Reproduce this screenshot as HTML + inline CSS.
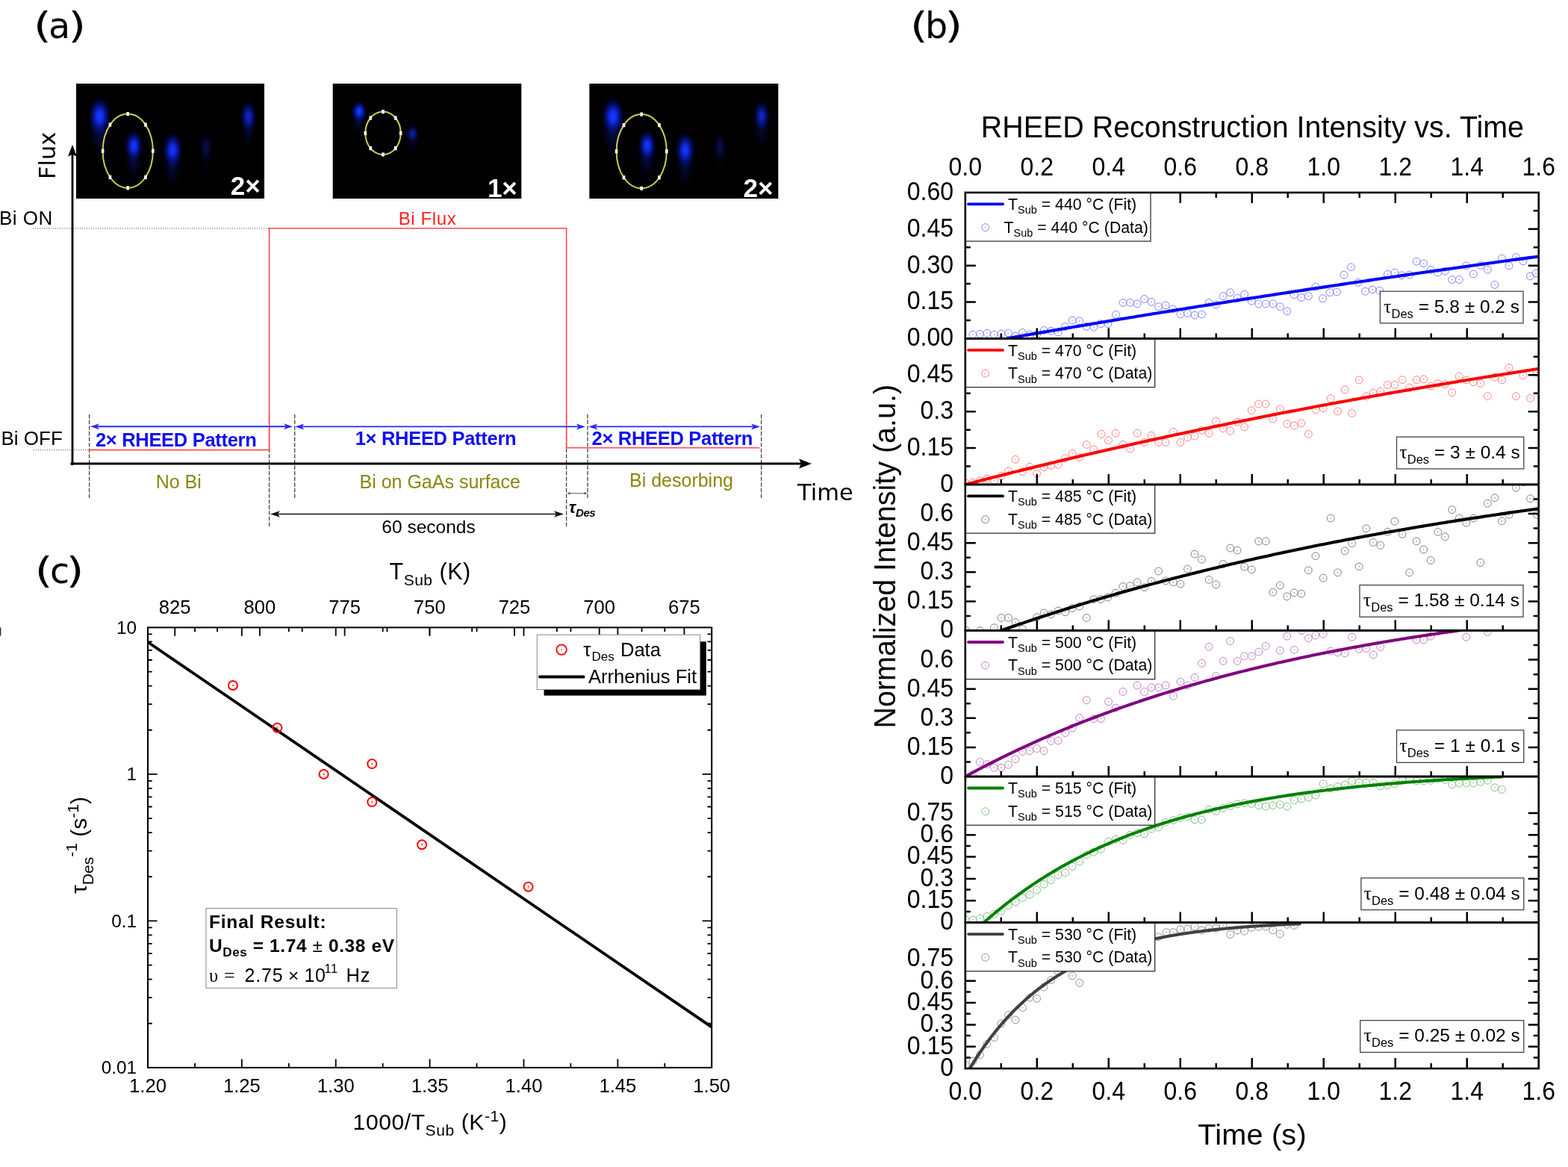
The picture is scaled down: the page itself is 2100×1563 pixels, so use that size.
<!DOCTYPE html>
<html><head><meta charset="utf-8"><title>RHEED desorption figure</title>
<style>html,body{margin:0;padding:0;background:#fff;}svg{display:block;}</style></head>
<body><svg width="2100" height="1563" viewBox="0 0 2100 1563">
<rect width="2100" height="1563" fill="#fff"/>
<g font-family="DejaVu Sans, sans-serif" font-size="47.5" fill="#000"><text transform="translate(44.7,51) scale(1.3,1)">(</text><text x="65.0" y="51">a</text><text transform="translate(91.2,51) scale(1.3,1)">)</text></g>
<g font-family="DejaVu Sans, sans-serif" font-size="47.5" fill="#000"><text transform="translate(1218.7,51) scale(1.3,1)">(</text><text x="1239" y="51">b</text><text transform="translate(1265.2,51) scale(1.3,1)">)</text></g>
<g font-family="DejaVu Sans, sans-serif" font-size="47.5" fill="#000"><text transform="translate(46.5,781.2) scale(1.3,1)">(</text><text x="67.0" y="781.2">c</text><text transform="translate(88.5,781.2) scale(1.3,1)">)</text></g>
<defs><radialGradient id="blob"><stop offset="0" stop-color="#1838ff"/><stop offset="0.25" stop-color="#1030f0"/><stop offset="0.55" stop-color="#0818a8" stop-opacity="0.75"/><stop offset="1" stop-color="#000050" stop-opacity="0"/></radialGradient><clipPath id="clip0"><rect x="102" y="112" width="252" height="154"/></clipPath><clipPath id="clip1"><rect x="445.7" y="112" width="252.6" height="154"/></clipPath><clipPath id="clip2"><rect x="789.3" y="112" width="253" height="154"/></clipPath></defs>
<rect x="102" y="112" width="252" height="154" fill="#000"/>
<g clip-path="url(#clip0)">
<ellipse cx="133.4" cy="174.7" rx="16" ry="40.5" fill="url(#blob)" opacity="0.22"/>
<ellipse cx="133.4" cy="155.8" rx="16" ry="27" fill="url(#blob)" opacity="1.0"/>
<ellipse cx="179.2" cy="210.8" rx="13" ry="33" fill="url(#blob)" opacity="0.21"/>
<ellipse cx="179.2" cy="195.4" rx="13" ry="22" fill="url(#blob)" opacity="0.95"/>
<ellipse cx="231.2" cy="218.5" rx="14" ry="37.5" fill="url(#blob)" opacity="0.21"/>
<ellipse cx="231.2" cy="201" rx="14" ry="25" fill="url(#blob)" opacity="0.95"/>
<ellipse cx="275.7" cy="210.6" rx="10" ry="30" fill="url(#blob)" opacity="0.06"/>
<ellipse cx="275.7" cy="196.6" rx="10" ry="20" fill="url(#blob)" opacity="0.25"/>
<ellipse cx="332.7" cy="171.2" rx="12" ry="33" fill="url(#blob)" opacity="0.15"/>
<ellipse cx="332.7" cy="155.8" rx="12" ry="22" fill="url(#blob)" opacity="0.7"/>
<ellipse cx="171.2" cy="202.2" rx="33.6" ry="49.6" fill="none" stroke="#cdcd4e" stroke-width="2"/>
<rect x="203" y="199.6" width="3.6" height="5.2" fill="#fff"/>
<rect x="193.16" y="234.67" width="3.6" height="5.2" fill="#fff"/>
<rect x="169.4" y="249.2" width="3.6" height="5.2" fill="#fff"/>
<rect x="145.64" y="234.67" width="3.6" height="5.2" fill="#fff"/>
<rect x="135.8" y="199.6" width="3.6" height="5.2" fill="#fff"/>
<rect x="145.64" y="164.53" width="3.6" height="5.2" fill="#fff"/>
<rect x="169.4" y="150" width="3.6" height="5.2" fill="#fff"/>
<rect x="193.16" y="164.53" width="3.6" height="5.2" fill="#fff"/>
</g>
<text x="348.6" y="260.5" font-family="Liberation Sans, Arial, sans-serif" font-weight="bold" font-size="35" fill="#fff" text-anchor="end">2×</text>
<rect x="445.7" y="112" width="252.6" height="154" fill="#000"/>
<g clip-path="url(#clip1)">
<ellipse cx="481" cy="159.8" rx="11" ry="22.5" fill="url(#blob)" opacity="0.22"/>
<ellipse cx="481" cy="149.3" rx="11" ry="15" fill="url(#blob)" opacity="1.0"/>
<ellipse cx="552.3" cy="188.1" rx="10" ry="19.5" fill="url(#blob)" opacity="0.12"/>
<ellipse cx="552.3" cy="179" rx="10" ry="13" fill="url(#blob)" opacity="0.55"/>
<ellipse cx="513" cy="178.3" rx="23.7" ry="28.7" fill="none" stroke="#cdcd4e" stroke-width="2"/>
<rect x="534.9" y="175.7" width="3.6" height="5.2" fill="#fff"/>
<rect x="527.96" y="195.99" width="3.6" height="5.2" fill="#fff"/>
<rect x="511.2" y="204.4" width="3.6" height="5.2" fill="#fff"/>
<rect x="494.44" y="195.99" width="3.6" height="5.2" fill="#fff"/>
<rect x="487.5" y="175.7" width="3.6" height="5.2" fill="#fff"/>
<rect x="494.44" y="155.41" width="3.6" height="5.2" fill="#fff"/>
<rect x="511.2" y="147" width="3.6" height="5.2" fill="#fff"/>
<rect x="527.96" y="155.41" width="3.6" height="5.2" fill="#fff"/>
</g>
<text x="692.8" y="263.5" font-family="Liberation Sans, Arial, sans-serif" font-weight="bold" font-size="35" fill="#fff" text-anchor="end">1×</text>
<rect x="789.3" y="112" width="253" height="154" fill="#000"/>
<g clip-path="url(#clip2)">
<ellipse cx="821" cy="174.9" rx="16" ry="40.5" fill="url(#blob)" opacity="0.22"/>
<ellipse cx="821" cy="156" rx="16" ry="27" fill="url(#blob)" opacity="1.0"/>
<ellipse cx="866.7" cy="210.4" rx="13" ry="33" fill="url(#blob)" opacity="0.21"/>
<ellipse cx="866.7" cy="195" rx="13" ry="22" fill="url(#blob)" opacity="0.95"/>
<ellipse cx="917.7" cy="218.5" rx="14" ry="37.5" fill="url(#blob)" opacity="0.21"/>
<ellipse cx="917.7" cy="201" rx="14" ry="25" fill="url(#blob)" opacity="0.95"/>
<ellipse cx="964" cy="210" rx="10" ry="30" fill="url(#blob)" opacity="0.06"/>
<ellipse cx="964" cy="196" rx="10" ry="20" fill="url(#blob)" opacity="0.25"/>
<ellipse cx="1020" cy="170.9" rx="12" ry="33" fill="url(#blob)" opacity="0.15"/>
<ellipse cx="1020" cy="155.5" rx="12" ry="22" fill="url(#blob)" opacity="0.7"/>
<ellipse cx="859.2" cy="202.7" rx="33.6" ry="49.6" fill="none" stroke="#cdcd4e" stroke-width="2"/>
<rect x="891" y="200.1" width="3.6" height="5.2" fill="#fff"/>
<rect x="881.16" y="235.17" width="3.6" height="5.2" fill="#fff"/>
<rect x="857.4" y="249.7" width="3.6" height="5.2" fill="#fff"/>
<rect x="833.64" y="235.17" width="3.6" height="5.2" fill="#fff"/>
<rect x="823.8" y="200.1" width="3.6" height="5.2" fill="#fff"/>
<rect x="833.64" y="165.03" width="3.6" height="5.2" fill="#fff"/>
<rect x="857.4" y="150.5" width="3.6" height="5.2" fill="#fff"/>
<rect x="881.16" y="165.03" width="3.6" height="5.2" fill="#fff"/>
</g>
<text x="1035.5" y="263.5" font-family="Liberation Sans, Arial, sans-serif" font-weight="bold" font-size="35" fill="#fff" text-anchor="end">2×</text>
<line x1="44" y1="305.8" x2="360" y2="305.8" stroke="#777" stroke-width="1.2" stroke-dasharray="1.2,1.8"/>
<line x1="45" y1="602.6" x2="119" y2="602.6" stroke="#777" stroke-width="1.2" stroke-dasharray="1.2,1.8"/>
<line x1="119.6" y1="555" x2="119.6" y2="668.6" stroke="#444" stroke-width="1.3" stroke-dasharray="5.6,2"/>
<line x1="360.6" y1="555" x2="360.6" y2="705.4" stroke="#444" stroke-width="1.3" stroke-dasharray="5.6,2"/>
<line x1="394.7" y1="555" x2="394.7" y2="668.6" stroke="#444" stroke-width="1.3" stroke-dasharray="5.6,2"/>
<line x1="758.6" y1="555" x2="758.6" y2="705.6" stroke="#444" stroke-width="1.3" stroke-dasharray="5.6,2"/>
<line x1="787" y1="555" x2="787" y2="668" stroke="#444" stroke-width="1.3" stroke-dasharray="5.6,2"/>
<line x1="1019.6" y1="555" x2="1019.6" y2="668" stroke="#444" stroke-width="1.3" stroke-dasharray="5.6,2"/>
<polyline points="119.6,602.6 360.6,602.6 360.6,305.8 758.6,305.8 758.6,599.8 1017,599.8" fill="none" stroke="#ff4a4a" stroke-width="1.6"/>
<line x1="97" y1="622" x2="97" y2="205" stroke="#000" stroke-width="2.8"/>
<polygon points="97,193.8 103,209.8 97,206.8 91,209.8" fill="#000"/>
<line x1="95.6" y1="621" x2="1075" y2="621" stroke="#000" stroke-width="2.8"/>
<polygon points="1087,621 1070,627.5 1073,621 1070,614.5" fill="#000"/>
<circle cx="96.6" cy="621" r="2.2" fill="#000"/>
<line x1="130" y1="571.2" x2="383.1" y2="571.2" stroke="#2828ff" stroke-width="1.9"/>
<polygon points="121,571.2 133,567.2 130,571.2 133,575.2" fill="#2828ff"/>
<polygon points="392.1,571.2 380.1,575.2 383.1,571.2 380.1,567.2" fill="#2828ff"/>
<line x1="404.3" y1="571.4" x2="774.9" y2="571.4" stroke="#2828ff" stroke-width="1.9"/>
<polygon points="395.3,571.4 407.3,567.4 404.3,571.4 407.3,575.4" fill="#2828ff"/>
<polygon points="783.9,571.4 771.9,575.4 774.9,571.4 771.9,567.4" fill="#2828ff"/>
<line x1="797.2" y1="571.4" x2="1009" y2="571.4" stroke="#2828ff" stroke-width="1.9"/>
<polygon points="788.2,571.4 800.2,567.4 797.2,571.4 800.2,575.4" fill="#2828ff"/>
<polygon points="1018,571.4 1006,575.4 1009,571.4 1006,567.4" fill="#2828ff"/>
<line x1="372" y1="688.5" x2="745" y2="688.5" stroke="#111" stroke-width="1.6"/>
<polygon points="362,688.5 375,684.3 372,688.5 375,692.7" fill="#111"/>
<polygon points="755,688.5 742,692.7 745,688.5 742,684.3" fill="#111"/>
<line x1="763" y1="660.8" x2="783" y2="660.8" stroke="#555" stroke-width="1.0"/>
<polygon points="759.5,660.8 763.5,658.8 763,660.8 763.5,662.8" fill="#555"/>
<polygon points="786.5,660.8 782.5,662.8 783,660.8 782.5,658.8" fill="#555"/>
<text x="-1" y="301.4" font-family="Liberation Sans, Arial, sans-serif" font-size="26" letter-spacing="0.5" fill="#000">Bi ON</text>
<text x="1.5" y="596" font-family="Liberation Sans, Arial, sans-serif" font-size="26" fill="#000">Bi OFF</text>
<text x="572.5" y="300.7" font-family="Liberation Sans, Arial, sans-serif" font-size="24" letter-spacing="0.6" fill="#ff2020" text-anchor="middle">Bi Flux</text>
<text x="235.7" y="598.3" font-family="Liberation Sans, Arial, sans-serif" font-size="25.5" letter-spacing="-0.3" font-weight="bold" fill="#1010ee" text-anchor="middle">2× RHEED Pattern</text>
<text x="583.5" y="596" font-family="Liberation Sans, Arial, sans-serif" font-size="25.5" letter-spacing="-0.3" font-weight="bold" fill="#1010ee" text-anchor="middle">1× RHEED Pattern</text>
<text x="900.3" y="595.6" font-family="Liberation Sans, Arial, sans-serif" font-size="25.5" letter-spacing="-0.3" font-weight="bold" fill="#1010ee" text-anchor="middle">2× RHEED Pattern</text>
<text x="239.3" y="653.6" font-family="Liberation Sans, Arial, sans-serif" font-size="25" fill="#888810" text-anchor="middle">No Bi</text>
<text x="589.2" y="653.6" font-family="Liberation Sans, Arial, sans-serif" font-size="25" fill="#888810" text-anchor="middle">Bi on GaAs surface</text>
<text x="912.5" y="652" font-family="Liberation Sans, Arial, sans-serif" font-size="25" fill="#888810" text-anchor="middle">Bi desorbing</text>
<text x="574" y="714" font-family="Liberation Sans, Arial, sans-serif" font-size="24.5" fill="#000" text-anchor="middle">60 seconds</text>
<text x="762" y="687" font-family="Liberation Sans, Arial, sans-serif" font-size="22" font-weight="bold" font-style="italic" fill="#000">τ<tspan font-size="15" dy="5" letter-spacing="-0.4">Des</tspan></text>
<text x="1068" y="670.4" font-family="DejaVu Sans, sans-serif" font-size="30.5" fill="#000">Time</text>
<text transform="translate(74,240) rotate(-90)" font-family="DejaVu Sans, sans-serif" font-size="30.5" fill="#000">Flux</text>
<defs><clipPath id="bclip"><rect x="1292.8" y="257.9" width="767.9039999999998" height="1173.1799999999998"/></clipPath>
<clipPath id="bc0"><rect x="1292.8" y="257.9" width="767.9039999999998" height="195.52999999999997"/></clipPath>
<clipPath id="bc1"><rect x="1292.8" y="453.42999999999995" width="767.9039999999998" height="195.5300000000001"/></clipPath>
<clipPath id="bc2"><rect x="1292.8" y="648.96" width="767.9039999999998" height="195.52999999999997"/></clipPath>
<clipPath id="bc3"><rect x="1292.8" y="844.49" width="767.9039999999998" height="195.52999999999997"/></clipPath>
<clipPath id="bc4"><rect x="1292.8" y="1040.02" width="767.9039999999998" height="195.52999999999997"/></clipPath>
<clipPath id="bc5"><rect x="1292.8" y="1235.55" width="767.9039999999998" height="195.52999999999997"/></clipPath>
</defs>
<g clip-path="url(#bc0)">
<circle cx="1302.86" cy="448.1" r="4.9" fill="none" stroke="#8080ff" stroke-width="1"/><circle cx="1302.86" cy="448.1" r="0.8" fill="#8080ff"/>
<circle cx="1312.38" cy="447.33" r="4.9" fill="none" stroke="#8080ff" stroke-width="1"/><circle cx="1312.38" cy="447.33" r="0.8" fill="#8080ff"/>
<circle cx="1321.9" cy="446.19" r="4.9" fill="none" stroke="#8080ff" stroke-width="1"/><circle cx="1321.9" cy="446.19" r="0.8" fill="#8080ff"/>
<circle cx="1331.43" cy="448.1" r="4.9" fill="none" stroke="#8080ff" stroke-width="1"/><circle cx="1331.43" cy="448.1" r="0.8" fill="#8080ff"/>
<circle cx="1340.95" cy="446.95" r="4.9" fill="none" stroke="#8080ff" stroke-width="1"/><circle cx="1340.95" cy="446.95" r="0.8" fill="#8080ff"/>
<circle cx="1350.48" cy="446.19" r="4.9" fill="none" stroke="#8080ff" stroke-width="1"/><circle cx="1350.48" cy="446.19" r="0.8" fill="#8080ff"/>
<circle cx="1360" cy="450" r="4.9" fill="none" stroke="#8080ff" stroke-width="1"/><circle cx="1360" cy="450" r="0.8" fill="#8080ff"/>
<circle cx="1369.52" cy="445.43" r="4.9" fill="none" stroke="#8080ff" stroke-width="1"/><circle cx="1369.52" cy="445.43" r="0.8" fill="#8080ff"/>
<circle cx="1379.05" cy="448.1" r="4.9" fill="none" stroke="#8080ff" stroke-width="1"/><circle cx="1379.05" cy="448.1" r="0.8" fill="#8080ff"/>
<circle cx="1388.57" cy="448.1" r="4.9" fill="none" stroke="#8080ff" stroke-width="1"/><circle cx="1388.57" cy="448.1" r="0.8" fill="#8080ff"/>
<circle cx="1398.1" cy="442.38" r="4.9" fill="none" stroke="#8080ff" stroke-width="1"/><circle cx="1398.1" cy="442.38" r="0.8" fill="#8080ff"/>
<circle cx="1407.62" cy="443.14" r="4.9" fill="none" stroke="#8080ff" stroke-width="1"/><circle cx="1407.62" cy="443.14" r="0.8" fill="#8080ff"/>
<circle cx="1417.14" cy="445.05" r="4.9" fill="none" stroke="#8080ff" stroke-width="1"/><circle cx="1417.14" cy="445.05" r="0.8" fill="#8080ff"/>
<circle cx="1426.67" cy="437.43" r="4.9" fill="none" stroke="#8080ff" stroke-width="1"/><circle cx="1426.67" cy="437.43" r="0.8" fill="#8080ff"/>
<circle cx="1436.19" cy="429.05" r="4.9" fill="none" stroke="#8080ff" stroke-width="1"/><circle cx="1436.19" cy="429.05" r="0.8" fill="#8080ff"/>
<circle cx="1445.71" cy="429.81" r="4.9" fill="none" stroke="#8080ff" stroke-width="1"/><circle cx="1445.71" cy="429.81" r="0.8" fill="#8080ff"/>
<circle cx="1455.24" cy="437.43" r="4.9" fill="none" stroke="#8080ff" stroke-width="1"/><circle cx="1455.24" cy="437.43" r="0.8" fill="#8080ff"/>
<circle cx="1464.76" cy="438.19" r="4.9" fill="none" stroke="#8080ff" stroke-width="1"/><circle cx="1464.76" cy="438.19" r="0.8" fill="#8080ff"/>
<circle cx="1474.29" cy="433.62" r="4.9" fill="none" stroke="#8080ff" stroke-width="1"/><circle cx="1474.29" cy="433.62" r="0.8" fill="#8080ff"/>
<circle cx="1483.81" cy="433.62" r="4.9" fill="none" stroke="#8080ff" stroke-width="1"/><circle cx="1483.81" cy="433.62" r="0.8" fill="#8080ff"/>
<circle cx="1494.48" cy="421.43" r="4.9" fill="none" stroke="#8080ff" stroke-width="1"/><circle cx="1494.48" cy="421.43" r="0.8" fill="#8080ff"/>
<circle cx="1504" cy="405.43" r="4.9" fill="none" stroke="#8080ff" stroke-width="1"/><circle cx="1504" cy="405.43" r="0.8" fill="#8080ff"/>
<circle cx="1513.52" cy="405.43" r="4.9" fill="none" stroke="#8080ff" stroke-width="1"/><circle cx="1513.52" cy="405.43" r="0.8" fill="#8080ff"/>
<circle cx="1523.05" cy="406.95" r="4.9" fill="none" stroke="#8080ff" stroke-width="1"/><circle cx="1523.05" cy="406.95" r="0.8" fill="#8080ff"/>
<circle cx="1532.57" cy="400.48" r="4.9" fill="none" stroke="#8080ff" stroke-width="1"/><circle cx="1532.57" cy="400.48" r="0.8" fill="#8080ff"/>
<circle cx="1542.1" cy="404.29" r="4.9" fill="none" stroke="#8080ff" stroke-width="1"/><circle cx="1542.1" cy="404.29" r="0.8" fill="#8080ff"/>
<circle cx="1551.62" cy="410.76" r="4.9" fill="none" stroke="#8080ff" stroke-width="1"/><circle cx="1551.62" cy="410.76" r="0.8" fill="#8080ff"/>
<circle cx="1561.14" cy="408.86" r="4.9" fill="none" stroke="#8080ff" stroke-width="1"/><circle cx="1561.14" cy="408.86" r="0.8" fill="#8080ff"/>
<circle cx="1570.67" cy="413.81" r="4.9" fill="none" stroke="#8080ff" stroke-width="1"/><circle cx="1570.67" cy="413.81" r="0.8" fill="#8080ff"/>
<circle cx="1580.95" cy="420.67" r="4.9" fill="none" stroke="#8080ff" stroke-width="1"/><circle cx="1580.95" cy="420.67" r="0.8" fill="#8080ff"/>
<circle cx="1590.48" cy="419.52" r="4.9" fill="none" stroke="#8080ff" stroke-width="1"/><circle cx="1590.48" cy="419.52" r="0.8" fill="#8080ff"/>
<circle cx="1600" cy="422.19" r="4.9" fill="none" stroke="#8080ff" stroke-width="1"/><circle cx="1600" cy="422.19" r="0.8" fill="#8080ff"/>
<circle cx="1609.52" cy="421.05" r="4.9" fill="none" stroke="#8080ff" stroke-width="1"/><circle cx="1609.52" cy="421.05" r="0.8" fill="#8080ff"/>
<circle cx="1619.05" cy="405.43" r="4.9" fill="none" stroke="#8080ff" stroke-width="1"/><circle cx="1619.05" cy="405.43" r="0.8" fill="#8080ff"/>
<circle cx="1628.57" cy="408.1" r="4.9" fill="none" stroke="#8080ff" stroke-width="1"/><circle cx="1628.57" cy="408.1" r="0.8" fill="#8080ff"/>
<circle cx="1638.1" cy="396.67" r="4.9" fill="none" stroke="#8080ff" stroke-width="1"/><circle cx="1638.1" cy="396.67" r="0.8" fill="#8080ff"/>
<circle cx="1647.62" cy="391.71" r="4.9" fill="none" stroke="#8080ff" stroke-width="1"/><circle cx="1647.62" cy="391.71" r="0.8" fill="#8080ff"/>
<circle cx="1657.14" cy="399.33" r="4.9" fill="none" stroke="#8080ff" stroke-width="1"/><circle cx="1657.14" cy="399.33" r="0.8" fill="#8080ff"/>
<circle cx="1666.67" cy="394" r="4.9" fill="none" stroke="#8080ff" stroke-width="1"/><circle cx="1666.67" cy="394" r="0.8" fill="#8080ff"/>
<circle cx="1676.19" cy="403.14" r="4.9" fill="none" stroke="#8080ff" stroke-width="1"/><circle cx="1676.19" cy="403.14" r="0.8" fill="#8080ff"/>
<circle cx="1685.71" cy="406.95" r="4.9" fill="none" stroke="#8080ff" stroke-width="1"/><circle cx="1685.71" cy="406.95" r="0.8" fill="#8080ff"/>
<circle cx="1695.24" cy="406.95" r="4.9" fill="none" stroke="#8080ff" stroke-width="1"/><circle cx="1695.24" cy="406.95" r="0.8" fill="#8080ff"/>
<circle cx="1704.76" cy="406.95" r="4.9" fill="none" stroke="#8080ff" stroke-width="1"/><circle cx="1704.76" cy="406.95" r="0.8" fill="#8080ff"/>
<circle cx="1714.29" cy="410.76" r="4.9" fill="none" stroke="#8080ff" stroke-width="1"/><circle cx="1714.29" cy="410.76" r="0.8" fill="#8080ff"/>
<circle cx="1723.81" cy="416.86" r="4.9" fill="none" stroke="#8080ff" stroke-width="1"/><circle cx="1723.81" cy="416.86" r="0.8" fill="#8080ff"/>
<circle cx="1733.33" cy="394.76" r="4.9" fill="none" stroke="#8080ff" stroke-width="1"/><circle cx="1733.33" cy="394.76" r="0.8" fill="#8080ff"/>
<circle cx="1742.86" cy="398.57" r="4.9" fill="none" stroke="#8080ff" stroke-width="1"/><circle cx="1742.86" cy="398.57" r="0.8" fill="#8080ff"/>
<circle cx="1752.38" cy="396.67" r="4.9" fill="none" stroke="#8080ff" stroke-width="1"/><circle cx="1752.38" cy="396.67" r="0.8" fill="#8080ff"/>
<circle cx="1761.9" cy="384.1" r="4.9" fill="none" stroke="#8080ff" stroke-width="1"/><circle cx="1761.9" cy="384.1" r="0.8" fill="#8080ff"/>
<circle cx="1771.43" cy="399.71" r="4.9" fill="none" stroke="#8080ff" stroke-width="1"/><circle cx="1771.43" cy="399.71" r="0.8" fill="#8080ff"/>
<circle cx="1780.95" cy="391.71" r="4.9" fill="none" stroke="#8080ff" stroke-width="1"/><circle cx="1780.95" cy="391.71" r="0.8" fill="#8080ff"/>
<circle cx="1790.48" cy="390.95" r="4.9" fill="none" stroke="#8080ff" stroke-width="1"/><circle cx="1790.48" cy="390.95" r="0.8" fill="#8080ff"/>
<circle cx="1800" cy="368.1" r="4.9" fill="none" stroke="#8080ff" stroke-width="1"/><circle cx="1800" cy="368.1" r="0.8" fill="#8080ff"/>
<circle cx="1809.52" cy="357.81" r="4.9" fill="none" stroke="#8080ff" stroke-width="1"/><circle cx="1809.52" cy="357.81" r="0.8" fill="#8080ff"/>
<circle cx="1819.05" cy="378.38" r="4.9" fill="none" stroke="#8080ff" stroke-width="1"/><circle cx="1819.05" cy="378.38" r="0.8" fill="#8080ff"/>
<circle cx="1828.57" cy="390.19" r="4.9" fill="none" stroke="#8080ff" stroke-width="1"/><circle cx="1828.57" cy="390.19" r="0.8" fill="#8080ff"/>
<circle cx="1838.1" cy="387.9" r="4.9" fill="none" stroke="#8080ff" stroke-width="1"/><circle cx="1838.1" cy="387.9" r="0.8" fill="#8080ff"/>
<circle cx="1847.62" cy="389.05" r="4.9" fill="none" stroke="#8080ff" stroke-width="1"/><circle cx="1847.62" cy="389.05" r="0.8" fill="#8080ff"/>
<circle cx="1858.29" cy="367.33" r="4.9" fill="none" stroke="#8080ff" stroke-width="1"/><circle cx="1858.29" cy="367.33" r="0.8" fill="#8080ff"/>
<circle cx="1867.81" cy="365.05" r="4.9" fill="none" stroke="#8080ff" stroke-width="1"/><circle cx="1867.81" cy="365.05" r="0.8" fill="#8080ff"/>
<circle cx="1877.33" cy="368.86" r="4.9" fill="none" stroke="#8080ff" stroke-width="1"/><circle cx="1877.33" cy="368.86" r="0.8" fill="#8080ff"/>
<circle cx="1887.62" cy="368.1" r="4.9" fill="none" stroke="#8080ff" stroke-width="1"/><circle cx="1887.62" cy="368.1" r="0.8" fill="#8080ff"/>
<circle cx="1897.14" cy="350.19" r="4.9" fill="none" stroke="#8080ff" stroke-width="1"/><circle cx="1897.14" cy="350.19" r="0.8" fill="#8080ff"/>
<circle cx="1906.67" cy="352.86" r="4.9" fill="none" stroke="#8080ff" stroke-width="1"/><circle cx="1906.67" cy="352.86" r="0.8" fill="#8080ff"/>
<circle cx="1916.19" cy="361.24" r="4.9" fill="none" stroke="#8080ff" stroke-width="1"/><circle cx="1916.19" cy="361.24" r="0.8" fill="#8080ff"/>
<circle cx="1925.71" cy="365.05" r="4.9" fill="none" stroke="#8080ff" stroke-width="1"/><circle cx="1925.71" cy="365.05" r="0.8" fill="#8080ff"/>
<circle cx="1935.24" cy="363.14" r="4.9" fill="none" stroke="#8080ff" stroke-width="1"/><circle cx="1935.24" cy="363.14" r="0.8" fill="#8080ff"/>
<circle cx="1944.76" cy="374.57" r="4.9" fill="none" stroke="#8080ff" stroke-width="1"/><circle cx="1944.76" cy="374.57" r="0.8" fill="#8080ff"/>
<circle cx="1954.29" cy="374.57" r="4.9" fill="none" stroke="#8080ff" stroke-width="1"/><circle cx="1954.29" cy="374.57" r="0.8" fill="#8080ff"/>
<circle cx="1963.81" cy="355.9" r="4.9" fill="none" stroke="#8080ff" stroke-width="1"/><circle cx="1963.81" cy="355.9" r="0.8" fill="#8080ff"/>
<circle cx="1973.33" cy="366.95" r="4.9" fill="none" stroke="#8080ff" stroke-width="1"/><circle cx="1973.33" cy="366.95" r="0.8" fill="#8080ff"/>
<circle cx="1982.86" cy="355.52" r="4.9" fill="none" stroke="#8080ff" stroke-width="1"/><circle cx="1982.86" cy="355.52" r="0.8" fill="#8080ff"/>
<circle cx="1992.38" cy="361.24" r="4.9" fill="none" stroke="#8080ff" stroke-width="1"/><circle cx="1992.38" cy="361.24" r="0.8" fill="#8080ff"/>
<circle cx="2001.9" cy="381.43" r="4.9" fill="none" stroke="#8080ff" stroke-width="1"/><circle cx="2001.9" cy="381.43" r="0.8" fill="#8080ff"/>
<circle cx="2011.43" cy="346" r="4.9" fill="none" stroke="#8080ff" stroke-width="1"/><circle cx="2011.43" cy="346" r="0.8" fill="#8080ff"/>
<circle cx="2020.95" cy="355.9" r="4.9" fill="none" stroke="#8080ff" stroke-width="1"/><circle cx="2020.95" cy="355.9" r="0.8" fill="#8080ff"/>
<circle cx="2030.48" cy="344.48" r="4.9" fill="none" stroke="#8080ff" stroke-width="1"/><circle cx="2030.48" cy="344.48" r="0.8" fill="#8080ff"/>
<circle cx="2040" cy="349.81" r="4.9" fill="none" stroke="#8080ff" stroke-width="1"/><circle cx="2040" cy="349.81" r="0.8" fill="#8080ff"/>
<circle cx="2049.52" cy="370" r="4.9" fill="none" stroke="#8080ff" stroke-width="1"/><circle cx="2049.52" cy="370" r="0.8" fill="#8080ff"/>
<circle cx="2057.14" cy="366.19" r="4.9" fill="none" stroke="#8080ff" stroke-width="1"/><circle cx="2057.14" cy="366.19" r="0.8" fill="#8080ff"/>
<polyline points="1347.99,453.43 1351.56,452.81 1355.12,452.19 1358.68,451.56 1362.25,450.94 1365.81,450.32 1369.37,449.7 1372.94,449.09 1376.5,448.47 1380.07,447.85 1383.63,447.24 1387.19,446.62 1390.76,446.01 1394.32,445.39 1397.88,444.78 1401.45,444.17 1405.01,443.56 1408.57,442.95 1412.14,442.34 1415.7,441.73 1419.26,441.12 1422.83,440.52 1426.39,439.91 1429.95,439.3 1433.52,438.7 1437.08,438.09 1440.65,437.49 1444.21,436.89 1447.77,436.29 1451.34,435.69 1454.9,435.09 1458.46,434.49 1462.03,433.89 1465.59,433.29 1469.15,432.69 1472.72,432.1 1476.28,431.5 1479.84,430.91 1483.41,430.31 1486.97,429.72 1490.54,429.13 1494.1,428.53 1497.66,427.94 1501.23,427.35 1504.79,426.76 1508.35,426.18 1511.92,425.59 1515.48,425 1519.04,424.41 1522.61,423.83 1526.17,423.24 1529.73,422.66 1533.3,422.07 1536.86,421.49 1540.43,420.91 1543.99,420.33 1547.55,419.75 1551.12,419.17 1554.68,418.59 1558.24,418.01 1561.81,417.43 1565.37,416.86 1568.93,416.28 1572.5,415.71 1576.06,415.13 1579.62,414.56 1583.19,413.98 1586.75,413.41 1590.31,412.84 1593.88,412.27 1597.44,411.7 1601.01,411.13 1604.57,410.56 1608.13,409.99 1611.7,409.42 1615.26,408.86 1618.82,408.29 1622.39,407.73 1625.95,407.16 1629.51,406.6 1633.08,406.04 1636.64,405.47 1640.2,404.91 1643.77,404.35 1647.33,403.79 1650.9,403.23 1654.46,402.67 1658.02,402.12 1661.59,401.56 1665.15,401 1668.71,400.45 1672.28,399.89 1675.84,399.34 1679.4,398.78 1682.97,398.23 1686.53,397.68 1690.09,397.13 1693.66,396.58 1697.22,396.03 1700.78,395.48 1704.35,394.93 1707.91,394.38 1711.48,393.83 1715.04,393.28 1718.6,392.74 1722.17,392.19 1725.73,391.65 1729.29,391.11 1732.86,390.56 1736.42,390.02 1739.98,389.48 1743.55,388.94 1747.11,388.4 1750.67,387.86 1754.24,387.32 1757.8,386.78 1761.37,386.24 1764.93,385.71 1768.49,385.17 1772.06,384.63 1775.62,384.1 1779.18,383.56 1782.75,383.03 1786.31,382.5 1789.87,381.97 1793.44,381.43 1797,380.9 1800.56,380.37 1804.13,379.84 1807.69,379.32 1811.26,378.79 1814.82,378.26 1818.38,377.73 1821.95,377.21 1825.51,376.68 1829.07,376.16 1832.64,375.63 1836.2,375.11 1839.76,374.59 1843.33,374.07 1846.89,373.54 1850.45,373.02 1854.02,372.5 1857.58,371.98 1861.14,371.46 1864.71,370.95 1868.27,370.43 1871.84,369.91 1875.4,369.4 1878.96,368.88 1882.53,368.37 1886.09,367.85 1889.65,367.34 1893.22,366.83 1896.78,366.31 1900.34,365.8 1903.91,365.29 1907.47,364.78 1911.03,364.27 1914.6,363.76 1918.16,363.26 1921.73,362.75 1925.29,362.24 1928.85,361.74 1932.42,361.23 1935.98,360.72 1939.54,360.22 1943.11,359.72 1946.67,359.21 1950.23,358.71 1953.8,358.21 1957.36,357.71 1960.92,357.21 1964.49,356.71 1968.05,356.21 1971.62,355.71 1975.18,355.21 1978.74,354.72 1982.31,354.22 1985.87,353.72 1989.43,353.23 1993,352.73 1996.56,352.24 2000.12,351.75 2003.69,351.25 2007.25,350.76 2010.81,350.27 2014.38,349.78 2017.94,349.29 2021.5,348.8 2025.07,348.31 2028.63,347.82 2032.2,347.33 2035.76,346.85 2039.32,346.36 2042.89,345.87 2046.45,345.39 2050.01,344.9 2053.58,344.42 2057.14,343.94 2060.7,343.45" fill="none" stroke="#0000ff" stroke-width="4.1"/>
</g>
<g clip-path="url(#bc1)">
<circle cx="1293.33" cy="646.9" r="4.9" fill="none" stroke="#ff8080" stroke-width="1"/><circle cx="1293.33" cy="646.9" r="0.8" fill="#ff8080"/>
<circle cx="1302.86" cy="646.14" r="4.9" fill="none" stroke="#ff8080" stroke-width="1"/><circle cx="1302.86" cy="646.14" r="0.8" fill="#ff8080"/>
<circle cx="1312.38" cy="643.86" r="4.9" fill="none" stroke="#ff8080" stroke-width="1"/><circle cx="1312.38" cy="643.86" r="0.8" fill="#ff8080"/>
<circle cx="1321.9" cy="641.19" r="4.9" fill="none" stroke="#ff8080" stroke-width="1"/><circle cx="1321.9" cy="641.19" r="0.8" fill="#ff8080"/>
<circle cx="1331.43" cy="643.86" r="4.9" fill="none" stroke="#ff8080" stroke-width="1"/><circle cx="1331.43" cy="643.86" r="0.8" fill="#ff8080"/>
<circle cx="1340.95" cy="637.38" r="4.9" fill="none" stroke="#ff8080" stroke-width="1"/><circle cx="1340.95" cy="637.38" r="0.8" fill="#ff8080"/>
<circle cx="1350.48" cy="630.9" r="4.9" fill="none" stroke="#ff8080" stroke-width="1"/><circle cx="1350.48" cy="630.9" r="0.8" fill="#ff8080"/>
<circle cx="1360" cy="615.29" r="4.9" fill="none" stroke="#ff8080" stroke-width="1"/><circle cx="1360" cy="615.29" r="0.8" fill="#ff8080"/>
<circle cx="1369.52" cy="631.67" r="4.9" fill="none" stroke="#ff8080" stroke-width="1"/><circle cx="1369.52" cy="631.67" r="0.8" fill="#ff8080"/>
<circle cx="1379.05" cy="625.19" r="4.9" fill="none" stroke="#ff8080" stroke-width="1"/><circle cx="1379.05" cy="625.19" r="0.8" fill="#ff8080"/>
<circle cx="1388.57" cy="634.33" r="4.9" fill="none" stroke="#ff8080" stroke-width="1"/><circle cx="1388.57" cy="634.33" r="0.8" fill="#ff8080"/>
<circle cx="1398.1" cy="625.95" r="4.9" fill="none" stroke="#ff8080" stroke-width="1"/><circle cx="1398.1" cy="625.95" r="0.8" fill="#ff8080"/>
<circle cx="1407.62" cy="623.29" r="4.9" fill="none" stroke="#ff8080" stroke-width="1"/><circle cx="1407.62" cy="623.29" r="0.8" fill="#ff8080"/>
<circle cx="1417.14" cy="622.14" r="4.9" fill="none" stroke="#ff8080" stroke-width="1"/><circle cx="1417.14" cy="622.14" r="0.8" fill="#ff8080"/>
<circle cx="1426.67" cy="613.76" r="4.9" fill="none" stroke="#ff8080" stroke-width="1"/><circle cx="1426.67" cy="613.76" r="0.8" fill="#ff8080"/>
<circle cx="1436.19" cy="607.67" r="4.9" fill="none" stroke="#ff8080" stroke-width="1"/><circle cx="1436.19" cy="607.67" r="0.8" fill="#ff8080"/>
<circle cx="1445.71" cy="612.62" r="4.9" fill="none" stroke="#ff8080" stroke-width="1"/><circle cx="1445.71" cy="612.62" r="0.8" fill="#ff8080"/>
<circle cx="1455.24" cy="595.48" r="4.9" fill="none" stroke="#ff8080" stroke-width="1"/><circle cx="1455.24" cy="595.48" r="0.8" fill="#ff8080"/>
<circle cx="1464.76" cy="601.95" r="4.9" fill="none" stroke="#ff8080" stroke-width="1"/><circle cx="1464.76" cy="601.95" r="0.8" fill="#ff8080"/>
<circle cx="1475.05" cy="581.38" r="4.9" fill="none" stroke="#ff8080" stroke-width="1"/><circle cx="1475.05" cy="581.38" r="0.8" fill="#ff8080"/>
<circle cx="1484.57" cy="589.76" r="4.9" fill="none" stroke="#ff8080" stroke-width="1"/><circle cx="1484.57" cy="589.76" r="0.8" fill="#ff8080"/>
<circle cx="1494.1" cy="580.24" r="4.9" fill="none" stroke="#ff8080" stroke-width="1"/><circle cx="1494.1" cy="580.24" r="0.8" fill="#ff8080"/>
<circle cx="1504" cy="595.48" r="4.9" fill="none" stroke="#ff8080" stroke-width="1"/><circle cx="1504" cy="595.48" r="0.8" fill="#ff8080"/>
<circle cx="1513.52" cy="601.19" r="4.9" fill="none" stroke="#ff8080" stroke-width="1"/><circle cx="1513.52" cy="601.19" r="0.8" fill="#ff8080"/>
<circle cx="1523.05" cy="580.24" r="4.9" fill="none" stroke="#ff8080" stroke-width="1"/><circle cx="1523.05" cy="580.24" r="0.8" fill="#ff8080"/>
<circle cx="1532.57" cy="592.43" r="4.9" fill="none" stroke="#ff8080" stroke-width="1"/><circle cx="1532.57" cy="592.43" r="0.8" fill="#ff8080"/>
<circle cx="1542.1" cy="583.29" r="4.9" fill="none" stroke="#ff8080" stroke-width="1"/><circle cx="1542.1" cy="583.29" r="0.8" fill="#ff8080"/>
<circle cx="1551.62" cy="592.43" r="4.9" fill="none" stroke="#ff8080" stroke-width="1"/><circle cx="1551.62" cy="592.43" r="0.8" fill="#ff8080"/>
<circle cx="1561.14" cy="592.43" r="4.9" fill="none" stroke="#ff8080" stroke-width="1"/><circle cx="1561.14" cy="592.43" r="0.8" fill="#ff8080"/>
<circle cx="1571.43" cy="578.33" r="4.9" fill="none" stroke="#ff8080" stroke-width="1"/><circle cx="1571.43" cy="578.33" r="0.8" fill="#ff8080"/>
<circle cx="1580.95" cy="592.43" r="4.9" fill="none" stroke="#ff8080" stroke-width="1"/><circle cx="1580.95" cy="592.43" r="0.8" fill="#ff8080"/>
<circle cx="1590.48" cy="585.95" r="4.9" fill="none" stroke="#ff8080" stroke-width="1"/><circle cx="1590.48" cy="585.95" r="0.8" fill="#ff8080"/>
<circle cx="1600" cy="584.05" r="4.9" fill="none" stroke="#ff8080" stroke-width="1"/><circle cx="1600" cy="584.05" r="0.8" fill="#ff8080"/>
<circle cx="1609.52" cy="576.43" r="4.9" fill="none" stroke="#ff8080" stroke-width="1"/><circle cx="1609.52" cy="576.43" r="0.8" fill="#ff8080"/>
<circle cx="1619.05" cy="580.24" r="4.9" fill="none" stroke="#ff8080" stroke-width="1"/><circle cx="1619.05" cy="580.24" r="0.8" fill="#ff8080"/>
<circle cx="1628.57" cy="564.24" r="4.9" fill="none" stroke="#ff8080" stroke-width="1"/><circle cx="1628.57" cy="564.24" r="0.8" fill="#ff8080"/>
<circle cx="1638.1" cy="573.76" r="4.9" fill="none" stroke="#ff8080" stroke-width="1"/><circle cx="1638.1" cy="573.76" r="0.8" fill="#ff8080"/>
<circle cx="1647.62" cy="577.19" r="4.9" fill="none" stroke="#ff8080" stroke-width="1"/><circle cx="1647.62" cy="577.19" r="0.8" fill="#ff8080"/>
<circle cx="1657.14" cy="565" r="4.9" fill="none" stroke="#ff8080" stroke-width="1"/><circle cx="1657.14" cy="565" r="0.8" fill="#ff8080"/>
<circle cx="1666.67" cy="571.86" r="4.9" fill="none" stroke="#ff8080" stroke-width="1"/><circle cx="1666.67" cy="571.86" r="0.8" fill="#ff8080"/>
<circle cx="1676.19" cy="549.76" r="4.9" fill="none" stroke="#ff8080" stroke-width="1"/><circle cx="1676.19" cy="549.76" r="0.8" fill="#ff8080"/>
<circle cx="1685.71" cy="541" r="4.9" fill="none" stroke="#ff8080" stroke-width="1"/><circle cx="1685.71" cy="541" r="0.8" fill="#ff8080"/>
<circle cx="1695.24" cy="541" r="4.9" fill="none" stroke="#ff8080" stroke-width="1"/><circle cx="1695.24" cy="541" r="0.8" fill="#ff8080"/>
<circle cx="1704.76" cy="561.19" r="4.9" fill="none" stroke="#ff8080" stroke-width="1"/><circle cx="1704.76" cy="561.19" r="0.8" fill="#ff8080"/>
<circle cx="1714.29" cy="547.86" r="4.9" fill="none" stroke="#ff8080" stroke-width="1"/><circle cx="1714.29" cy="547.86" r="0.8" fill="#ff8080"/>
<circle cx="1723.81" cy="567.67" r="4.9" fill="none" stroke="#ff8080" stroke-width="1"/><circle cx="1723.81" cy="567.67" r="0.8" fill="#ff8080"/>
<circle cx="1733.33" cy="569.95" r="4.9" fill="none" stroke="#ff8080" stroke-width="1"/><circle cx="1733.33" cy="569.95" r="0.8" fill="#ff8080"/>
<circle cx="1742.86" cy="566.9" r="4.9" fill="none" stroke="#ff8080" stroke-width="1"/><circle cx="1742.86" cy="566.9" r="0.8" fill="#ff8080"/>
<circle cx="1752.38" cy="581.38" r="4.9" fill="none" stroke="#ff8080" stroke-width="1"/><circle cx="1752.38" cy="581.38" r="0.8" fill="#ff8080"/>
<circle cx="1761.9" cy="548.62" r="4.9" fill="none" stroke="#ff8080" stroke-width="1"/><circle cx="1761.9" cy="548.62" r="0.8" fill="#ff8080"/>
<circle cx="1772.19" cy="546.71" r="4.9" fill="none" stroke="#ff8080" stroke-width="1"/><circle cx="1772.19" cy="546.71" r="0.8" fill="#ff8080"/>
<circle cx="1782.1" cy="533.76" r="4.9" fill="none" stroke="#ff8080" stroke-width="1"/><circle cx="1782.1" cy="533.76" r="0.8" fill="#ff8080"/>
<circle cx="1791.62" cy="550.9" r="4.9" fill="none" stroke="#ff8080" stroke-width="1"/><circle cx="1791.62" cy="550.9" r="0.8" fill="#ff8080"/>
<circle cx="1801.14" cy="521.95" r="4.9" fill="none" stroke="#ff8080" stroke-width="1"/><circle cx="1801.14" cy="521.95" r="0.8" fill="#ff8080"/>
<circle cx="1810.67" cy="553.57" r="4.9" fill="none" stroke="#ff8080" stroke-width="1"/><circle cx="1810.67" cy="553.57" r="0.8" fill="#ff8080"/>
<circle cx="1820.19" cy="509" r="4.9" fill="none" stroke="#ff8080" stroke-width="1"/><circle cx="1820.19" cy="509" r="0.8" fill="#ff8080"/>
<circle cx="1829.71" cy="530.71" r="4.9" fill="none" stroke="#ff8080" stroke-width="1"/><circle cx="1829.71" cy="530.71" r="0.8" fill="#ff8080"/>
<circle cx="1839.24" cy="526.14" r="4.9" fill="none" stroke="#ff8080" stroke-width="1"/><circle cx="1839.24" cy="526.14" r="0.8" fill="#ff8080"/>
<circle cx="1848.76" cy="524.24" r="4.9" fill="none" stroke="#ff8080" stroke-width="1"/><circle cx="1848.76" cy="524.24" r="0.8" fill="#ff8080"/>
<circle cx="1858.29" cy="515.48" r="4.9" fill="none" stroke="#ff8080" stroke-width="1"/><circle cx="1858.29" cy="515.48" r="0.8" fill="#ff8080"/>
<circle cx="1867.81" cy="515.48" r="4.9" fill="none" stroke="#ff8080" stroke-width="1"/><circle cx="1867.81" cy="515.48" r="0.8" fill="#ff8080"/>
<circle cx="1878.1" cy="508.62" r="4.9" fill="none" stroke="#ff8080" stroke-width="1"/><circle cx="1878.1" cy="508.62" r="0.8" fill="#ff8080"/>
<circle cx="1887.62" cy="519.29" r="4.9" fill="none" stroke="#ff8080" stroke-width="1"/><circle cx="1887.62" cy="519.29" r="0.8" fill="#ff8080"/>
<circle cx="1897.14" cy="508.62" r="4.9" fill="none" stroke="#ff8080" stroke-width="1"/><circle cx="1897.14" cy="508.62" r="0.8" fill="#ff8080"/>
<circle cx="1906.67" cy="507.86" r="4.9" fill="none" stroke="#ff8080" stroke-width="1"/><circle cx="1906.67" cy="507.86" r="0.8" fill="#ff8080"/>
<circle cx="1916.19" cy="517.38" r="4.9" fill="none" stroke="#ff8080" stroke-width="1"/><circle cx="1916.19" cy="517.38" r="0.8" fill="#ff8080"/>
<circle cx="1925.71" cy="513.57" r="4.9" fill="none" stroke="#ff8080" stroke-width="1"/><circle cx="1925.71" cy="513.57" r="0.8" fill="#ff8080"/>
<circle cx="1935.24" cy="514.71" r="4.9" fill="none" stroke="#ff8080" stroke-width="1"/><circle cx="1935.24" cy="514.71" r="0.8" fill="#ff8080"/>
<circle cx="1944.76" cy="525.76" r="4.9" fill="none" stroke="#ff8080" stroke-width="1"/><circle cx="1944.76" cy="525.76" r="0.8" fill="#ff8080"/>
<circle cx="1954.29" cy="504.05" r="4.9" fill="none" stroke="#ff8080" stroke-width="1"/><circle cx="1954.29" cy="504.05" r="0.8" fill="#ff8080"/>
<circle cx="1963.81" cy="509" r="4.9" fill="none" stroke="#ff8080" stroke-width="1"/><circle cx="1963.81" cy="509" r="0.8" fill="#ff8080"/>
<circle cx="1973.33" cy="511.67" r="4.9" fill="none" stroke="#ff8080" stroke-width="1"/><circle cx="1973.33" cy="511.67" r="0.8" fill="#ff8080"/>
<circle cx="1982.86" cy="513.57" r="4.9" fill="none" stroke="#ff8080" stroke-width="1"/><circle cx="1982.86" cy="513.57" r="0.8" fill="#ff8080"/>
<circle cx="1992.38" cy="530.71" r="4.9" fill="none" stroke="#ff8080" stroke-width="1"/><circle cx="1992.38" cy="530.71" r="0.8" fill="#ff8080"/>
<circle cx="2001.9" cy="505.19" r="4.9" fill="none" stroke="#ff8080" stroke-width="1"/><circle cx="2001.9" cy="505.19" r="0.8" fill="#ff8080"/>
<circle cx="2011.43" cy="509" r="4.9" fill="none" stroke="#ff8080" stroke-width="1"/><circle cx="2011.43" cy="509" r="0.8" fill="#ff8080"/>
<circle cx="2020.95" cy="492.62" r="4.9" fill="none" stroke="#ff8080" stroke-width="1"/><circle cx="2020.95" cy="492.62" r="0.8" fill="#ff8080"/>
<circle cx="2030.48" cy="530.71" r="4.9" fill="none" stroke="#ff8080" stroke-width="1"/><circle cx="2030.48" cy="530.71" r="0.8" fill="#ff8080"/>
<circle cx="2040" cy="502.9" r="4.9" fill="none" stroke="#ff8080" stroke-width="1"/><circle cx="2040" cy="502.9" r="0.8" fill="#ff8080"/>
<circle cx="2049.52" cy="533.38" r="4.9" fill="none" stroke="#ff8080" stroke-width="1"/><circle cx="2049.52" cy="533.38" r="0.8" fill="#ff8080"/>
<circle cx="2058.29" cy="499.1" r="4.9" fill="none" stroke="#ff8080" stroke-width="1"/><circle cx="2058.29" cy="499.1" r="0.8" fill="#ff8080"/>
<polyline points="1292.8,648.96 1296.64,647.96 1300.48,646.96 1304.32,645.97 1308.16,644.98 1312,643.99 1315.84,643.01 1319.68,642.02 1323.52,641.04 1327.36,640.06 1331.2,639.09 1335.03,638.12 1338.87,637.15 1342.71,636.18 1346.55,635.21 1350.39,634.25 1354.23,633.29 1358.07,632.34 1361.91,631.38 1365.75,630.43 1369.59,629.48 1373.43,628.53 1377.27,627.59 1381.11,626.65 1384.95,625.71 1388.79,624.77 1392.63,623.83 1396.47,622.9 1400.31,621.97 1404.15,621.05 1407.99,620.12 1411.83,619.2 1415.66,618.28 1419.5,617.36 1423.34,616.45 1427.18,615.54 1431.02,614.63 1434.86,613.72 1438.7,612.81 1442.54,611.91 1446.38,611.01 1450.22,610.11 1454.06,609.22 1457.9,608.32 1461.74,607.43 1465.58,606.54 1469.42,605.66 1473.26,604.78 1477.1,603.89 1480.94,603.02 1484.78,602.14 1488.62,601.26 1492.46,600.39 1496.29,599.52 1500.13,598.66 1503.97,597.79 1507.81,596.93 1511.65,596.07 1515.49,595.21 1519.33,594.35 1523.17,593.5 1527.01,592.65 1530.85,591.8 1534.69,590.95 1538.53,590.11 1542.37,589.27 1546.21,588.43 1550.05,587.59 1553.89,586.75 1557.73,585.92 1561.57,585.09 1565.41,584.26 1569.25,583.43 1573.08,582.61 1576.92,581.79 1580.76,580.97 1584.6,580.15 1588.44,579.33 1592.28,578.52 1596.12,577.71 1599.96,576.9 1603.8,576.09 1607.64,575.29 1611.48,574.49 1615.32,573.68 1619.16,572.89 1623,572.09 1626.84,571.3 1630.68,570.5 1634.52,569.71 1638.36,568.93 1642.2,568.14 1646.04,567.36 1649.88,566.57 1653.71,565.8 1657.55,565.02 1661.39,564.24 1665.23,563.47 1669.07,562.7 1672.91,561.93 1676.75,561.16 1680.59,560.4 1684.43,559.63 1688.27,558.87 1692.11,558.11 1695.95,557.36 1699.79,556.6 1703.63,555.85 1707.47,555.1 1711.31,554.35 1715.15,553.6 1718.99,552.86 1722.83,552.11 1726.67,551.37 1730.51,550.63 1734.34,549.9 1738.18,549.16 1742.02,548.43 1745.86,547.7 1749.7,546.97 1753.54,546.24 1757.38,545.52 1761.22,544.79 1765.06,544.07 1768.9,543.35 1772.74,542.63 1776.58,541.92 1780.42,541.2 1784.26,540.49 1788.1,539.78 1791.94,539.07 1795.78,538.37 1799.62,537.66 1803.46,536.96 1807.3,536.26 1811.14,535.56 1814.97,534.86 1818.81,534.17 1822.65,533.48 1826.49,532.78 1830.33,532.09 1834.17,531.41 1838.01,530.72 1841.85,530.04 1845.69,529.36 1849.53,528.67 1853.37,528 1857.21,527.32 1861.05,526.64 1864.89,525.97 1868.73,525.3 1872.57,524.63 1876.41,523.96 1880.25,523.3 1884.09,522.63 1887.93,521.97 1891.77,521.31 1895.6,520.65 1899.44,519.99 1903.28,519.34 1907.12,518.68 1910.96,518.03 1914.8,517.38 1918.64,516.73 1922.48,516.09 1926.32,515.44 1930.16,514.8 1934,514.16 1937.84,513.52 1941.68,512.88 1945.52,512.24 1949.36,511.61 1953.2,510.97 1957.04,510.34 1960.88,509.71 1964.72,509.08 1968.56,508.46 1972.4,507.83 1976.23,507.21 1980.07,506.59 1983.91,505.97 1987.75,505.35 1991.59,504.73 1995.43,504.12 1999.27,503.51 2003.11,502.89 2006.95,502.28 2010.79,501.68 2014.63,501.07 2018.47,500.46 2022.31,499.86 2026.15,499.26 2029.99,498.66 2033.83,498.06 2037.67,497.46 2041.51,496.87 2045.35,496.27 2049.19,495.68 2053.02,495.09 2056.86,494.5 2060.7,493.91" fill="none" stroke="#ff0000" stroke-width="4.1"/>
</g>
<g clip-path="url(#bc2)">
<circle cx="1293.33" cy="843.81" r="4.9" fill="none" stroke="#808080" stroke-width="1"/><circle cx="1293.33" cy="843.81" r="0.8" fill="#808080"/>
<circle cx="1312.38" cy="844.57" r="4.9" fill="none" stroke="#808080" stroke-width="1"/><circle cx="1312.38" cy="844.57" r="0.8" fill="#808080"/>
<circle cx="1331.43" cy="840.76" r="4.9" fill="none" stroke="#808080" stroke-width="1"/><circle cx="1331.43" cy="840.76" r="0.8" fill="#808080"/>
<circle cx="1340.95" cy="827.43" r="4.9" fill="none" stroke="#808080" stroke-width="1"/><circle cx="1340.95" cy="827.43" r="0.8" fill="#808080"/>
<circle cx="1350.48" cy="827.43" r="4.9" fill="none" stroke="#808080" stroke-width="1"/><circle cx="1350.48" cy="827.43" r="0.8" fill="#808080"/>
<circle cx="1360" cy="833.52" r="4.9" fill="none" stroke="#808080" stroke-width="1"/><circle cx="1360" cy="833.52" r="0.8" fill="#808080"/>
<circle cx="1369.52" cy="842.67" r="4.9" fill="none" stroke="#808080" stroke-width="1"/><circle cx="1369.52" cy="842.67" r="0.8" fill="#808080"/>
<circle cx="1388.57" cy="826.67" r="4.9" fill="none" stroke="#808080" stroke-width="1"/><circle cx="1388.57" cy="826.67" r="0.8" fill="#808080"/>
<circle cx="1398.1" cy="820.95" r="4.9" fill="none" stroke="#808080" stroke-width="1"/><circle cx="1398.1" cy="820.95" r="0.8" fill="#808080"/>
<circle cx="1407.62" cy="822.86" r="4.9" fill="none" stroke="#808080" stroke-width="1"/><circle cx="1407.62" cy="822.86" r="0.8" fill="#808080"/>
<circle cx="1417.14" cy="817.9" r="4.9" fill="none" stroke="#808080" stroke-width="1"/><circle cx="1417.14" cy="817.9" r="0.8" fill="#808080"/>
<circle cx="1426.67" cy="819.81" r="4.9" fill="none" stroke="#808080" stroke-width="1"/><circle cx="1426.67" cy="819.81" r="0.8" fill="#808080"/>
<circle cx="1436.19" cy="814.48" r="4.9" fill="none" stroke="#808080" stroke-width="1"/><circle cx="1436.19" cy="814.48" r="0.8" fill="#808080"/>
<circle cx="1445.71" cy="812.19" r="4.9" fill="none" stroke="#808080" stroke-width="1"/><circle cx="1445.71" cy="812.19" r="0.8" fill="#808080"/>
<circle cx="1455.24" cy="827.43" r="4.9" fill="none" stroke="#808080" stroke-width="1"/><circle cx="1455.24" cy="827.43" r="0.8" fill="#808080"/>
<circle cx="1464.76" cy="802.67" r="4.9" fill="none" stroke="#808080" stroke-width="1"/><circle cx="1464.76" cy="802.67" r="0.8" fill="#808080"/>
<circle cx="1474.29" cy="802.67" r="4.9" fill="none" stroke="#808080" stroke-width="1"/><circle cx="1474.29" cy="802.67" r="0.8" fill="#808080"/>
<circle cx="1483.81" cy="800" r="4.9" fill="none" stroke="#808080" stroke-width="1"/><circle cx="1483.81" cy="800" r="0.8" fill="#808080"/>
<circle cx="1494.1" cy="794.29" r="4.9" fill="none" stroke="#808080" stroke-width="1"/><circle cx="1494.1" cy="794.29" r="0.8" fill="#808080"/>
<circle cx="1504" cy="785.52" r="4.9" fill="none" stroke="#808080" stroke-width="1"/><circle cx="1504" cy="785.52" r="0.8" fill="#808080"/>
<circle cx="1513.52" cy="784.76" r="4.9" fill="none" stroke="#808080" stroke-width="1"/><circle cx="1513.52" cy="784.76" r="0.8" fill="#808080"/>
<circle cx="1523.05" cy="779.81" r="4.9" fill="none" stroke="#808080" stroke-width="1"/><circle cx="1523.05" cy="779.81" r="0.8" fill="#808080"/>
<circle cx="1532.57" cy="786.67" r="4.9" fill="none" stroke="#808080" stroke-width="1"/><circle cx="1532.57" cy="786.67" r="0.8" fill="#808080"/>
<circle cx="1542.1" cy="778.29" r="4.9" fill="none" stroke="#808080" stroke-width="1"/><circle cx="1542.1" cy="778.29" r="0.8" fill="#808080"/>
<circle cx="1551.62" cy="764.95" r="4.9" fill="none" stroke="#808080" stroke-width="1"/><circle cx="1551.62" cy="764.95" r="0.8" fill="#808080"/>
<circle cx="1561.14" cy="777.9" r="4.9" fill="none" stroke="#808080" stroke-width="1"/><circle cx="1561.14" cy="777.9" r="0.8" fill="#808080"/>
<circle cx="1571.43" cy="779.81" r="4.9" fill="none" stroke="#808080" stroke-width="1"/><circle cx="1571.43" cy="779.81" r="0.8" fill="#808080"/>
<circle cx="1580.95" cy="782.1" r="4.9" fill="none" stroke="#808080" stroke-width="1"/><circle cx="1580.95" cy="782.1" r="0.8" fill="#808080"/>
<circle cx="1590.48" cy="761.9" r="4.9" fill="none" stroke="#808080" stroke-width="1"/><circle cx="1590.48" cy="761.9" r="0.8" fill="#808080"/>
<circle cx="1600" cy="742.1" r="4.9" fill="none" stroke="#808080" stroke-width="1"/><circle cx="1600" cy="742.1" r="0.8" fill="#808080"/>
<circle cx="1609.52" cy="749.33" r="4.9" fill="none" stroke="#808080" stroke-width="1"/><circle cx="1609.52" cy="749.33" r="0.8" fill="#808080"/>
<circle cx="1619.05" cy="776.38" r="4.9" fill="none" stroke="#808080" stroke-width="1"/><circle cx="1619.05" cy="776.38" r="0.8" fill="#808080"/>
<circle cx="1628.57" cy="782.86" r="4.9" fill="none" stroke="#808080" stroke-width="1"/><circle cx="1628.57" cy="782.86" r="0.8" fill="#808080"/>
<circle cx="1638.1" cy="755.43" r="4.9" fill="none" stroke="#808080" stroke-width="1"/><circle cx="1638.1" cy="755.43" r="0.8" fill="#808080"/>
<circle cx="1647.62" cy="734.1" r="4.9" fill="none" stroke="#808080" stroke-width="1"/><circle cx="1647.62" cy="734.1" r="0.8" fill="#808080"/>
<circle cx="1657.14" cy="737.14" r="4.9" fill="none" stroke="#808080" stroke-width="1"/><circle cx="1657.14" cy="737.14" r="0.8" fill="#808080"/>
<circle cx="1666.67" cy="759.24" r="4.9" fill="none" stroke="#808080" stroke-width="1"/><circle cx="1666.67" cy="759.24" r="0.8" fill="#808080"/>
<circle cx="1676.19" cy="763.05" r="4.9" fill="none" stroke="#808080" stroke-width="1"/><circle cx="1676.19" cy="763.05" r="0.8" fill="#808080"/>
<circle cx="1685.71" cy="724.95" r="4.9" fill="none" stroke="#808080" stroke-width="1"/><circle cx="1685.71" cy="724.95" r="0.8" fill="#808080"/>
<circle cx="1695.24" cy="724.95" r="4.9" fill="none" stroke="#808080" stroke-width="1"/><circle cx="1695.24" cy="724.95" r="0.8" fill="#808080"/>
<circle cx="1704.76" cy="793.14" r="4.9" fill="none" stroke="#808080" stroke-width="1"/><circle cx="1704.76" cy="793.14" r="0.8" fill="#808080"/>
<circle cx="1714.29" cy="784" r="4.9" fill="none" stroke="#808080" stroke-width="1"/><circle cx="1714.29" cy="784" r="0.8" fill="#808080"/>
<circle cx="1723.81" cy="798.86" r="4.9" fill="none" stroke="#808080" stroke-width="1"/><circle cx="1723.81" cy="798.86" r="0.8" fill="#808080"/>
<circle cx="1733.33" cy="793.9" r="4.9" fill="none" stroke="#808080" stroke-width="1"/><circle cx="1733.33" cy="793.9" r="0.8" fill="#808080"/>
<circle cx="1742.86" cy="795.05" r="4.9" fill="none" stroke="#808080" stroke-width="1"/><circle cx="1742.86" cy="795.05" r="0.8" fill="#808080"/>
<circle cx="1752.38" cy="763.81" r="4.9" fill="none" stroke="#808080" stroke-width="1"/><circle cx="1752.38" cy="763.81" r="0.8" fill="#808080"/>
<circle cx="1761.9" cy="744.76" r="4.9" fill="none" stroke="#808080" stroke-width="1"/><circle cx="1761.9" cy="744.76" r="0.8" fill="#808080"/>
<circle cx="1772.19" cy="774.1" r="4.9" fill="none" stroke="#808080" stroke-width="1"/><circle cx="1772.19" cy="774.1" r="0.8" fill="#808080"/>
<circle cx="1782.1" cy="694.1" r="4.9" fill="none" stroke="#808080" stroke-width="1"/><circle cx="1782.1" cy="694.1" r="0.8" fill="#808080"/>
<circle cx="1791.62" cy="766.86" r="4.9" fill="none" stroke="#808080" stroke-width="1"/><circle cx="1791.62" cy="766.86" r="0.8" fill="#808080"/>
<circle cx="1801.14" cy="737.9" r="4.9" fill="none" stroke="#808080" stroke-width="1"/><circle cx="1801.14" cy="737.9" r="0.8" fill="#808080"/>
<circle cx="1810.67" cy="727.62" r="4.9" fill="none" stroke="#808080" stroke-width="1"/><circle cx="1810.67" cy="727.62" r="0.8" fill="#808080"/>
<circle cx="1820.19" cy="758.86" r="4.9" fill="none" stroke="#808080" stroke-width="1"/><circle cx="1820.19" cy="758.86" r="0.8" fill="#808080"/>
<circle cx="1829.71" cy="707.81" r="4.9" fill="none" stroke="#808080" stroke-width="1"/><circle cx="1829.71" cy="707.81" r="0.8" fill="#808080"/>
<circle cx="1839.24" cy="726.48" r="4.9" fill="none" stroke="#808080" stroke-width="1"/><circle cx="1839.24" cy="726.48" r="0.8" fill="#808080"/>
<circle cx="1848.76" cy="730.29" r="4.9" fill="none" stroke="#808080" stroke-width="1"/><circle cx="1848.76" cy="730.29" r="0.8" fill="#808080"/>
<circle cx="1858.29" cy="712.38" r="4.9" fill="none" stroke="#808080" stroke-width="1"/><circle cx="1858.29" cy="712.38" r="0.8" fill="#808080"/>
<circle cx="1867.81" cy="698.29" r="4.9" fill="none" stroke="#808080" stroke-width="1"/><circle cx="1867.81" cy="698.29" r="0.8" fill="#808080"/>
<circle cx="1878.1" cy="715.43" r="4.9" fill="none" stroke="#808080" stroke-width="1"/><circle cx="1878.1" cy="715.43" r="0.8" fill="#808080"/>
<circle cx="1887.62" cy="766.86" r="4.9" fill="none" stroke="#808080" stroke-width="1"/><circle cx="1887.62" cy="766.86" r="0.8" fill="#808080"/>
<circle cx="1897.14" cy="724.95" r="4.9" fill="none" stroke="#808080" stroke-width="1"/><circle cx="1897.14" cy="724.95" r="0.8" fill="#808080"/>
<circle cx="1906.67" cy="736" r="4.9" fill="none" stroke="#808080" stroke-width="1"/><circle cx="1906.67" cy="736" r="0.8" fill="#808080"/>
<circle cx="1916.19" cy="750.48" r="4.9" fill="none" stroke="#808080" stroke-width="1"/><circle cx="1916.19" cy="750.48" r="0.8" fill="#808080"/>
<circle cx="1925.71" cy="712.38" r="4.9" fill="none" stroke="#808080" stroke-width="1"/><circle cx="1925.71" cy="712.38" r="0.8" fill="#808080"/>
<circle cx="1935.24" cy="718.86" r="4.9" fill="none" stroke="#808080" stroke-width="1"/><circle cx="1935.24" cy="718.86" r="0.8" fill="#808080"/>
<circle cx="1944.76" cy="682.67" r="4.9" fill="none" stroke="#808080" stroke-width="1"/><circle cx="1944.76" cy="682.67" r="0.8" fill="#808080"/>
<circle cx="1954.29" cy="694.1" r="4.9" fill="none" stroke="#808080" stroke-width="1"/><circle cx="1954.29" cy="694.1" r="0.8" fill="#808080"/>
<circle cx="1963.81" cy="700.19" r="4.9" fill="none" stroke="#808080" stroke-width="1"/><circle cx="1963.81" cy="700.19" r="0.8" fill="#808080"/>
<circle cx="1973.33" cy="694.1" r="4.9" fill="none" stroke="#808080" stroke-width="1"/><circle cx="1973.33" cy="694.1" r="0.8" fill="#808080"/>
<circle cx="1982.86" cy="753.52" r="4.9" fill="none" stroke="#808080" stroke-width="1"/><circle cx="1982.86" cy="753.52" r="0.8" fill="#808080"/>
<circle cx="1992.38" cy="674.29" r="4.9" fill="none" stroke="#808080" stroke-width="1"/><circle cx="1992.38" cy="674.29" r="0.8" fill="#808080"/>
<circle cx="2001.9" cy="666.67" r="4.9" fill="none" stroke="#808080" stroke-width="1"/><circle cx="2001.9" cy="666.67" r="0.8" fill="#808080"/>
<circle cx="2011.43" cy="697.9" r="4.9" fill="none" stroke="#808080" stroke-width="1"/><circle cx="2011.43" cy="697.9" r="0.8" fill="#808080"/>
<circle cx="2020.95" cy="689.52" r="4.9" fill="none" stroke="#808080" stroke-width="1"/><circle cx="2020.95" cy="689.52" r="0.8" fill="#808080"/>
<circle cx="2030.48" cy="653.33" r="4.9" fill="none" stroke="#808080" stroke-width="1"/><circle cx="2030.48" cy="653.33" r="0.8" fill="#808080"/>
<circle cx="2040" cy="645.71" r="4.9" fill="none" stroke="#808080" stroke-width="1"/><circle cx="2040" cy="645.71" r="0.8" fill="#808080"/>
<circle cx="2049.52" cy="667.81" r="4.9" fill="none" stroke="#808080" stroke-width="1"/><circle cx="2049.52" cy="667.81" r="0.8" fill="#808080"/>
<circle cx="2058.29" cy="689.52" r="4.9" fill="none" stroke="#808080" stroke-width="1"/><circle cx="2058.29" cy="689.52" r="0.8" fill="#808080"/>
<polyline points="1340.79,844.49 1344.39,843.23 1347.99,841.97 1351.59,840.73 1355.19,839.48 1358.79,838.25 1362.39,837.02 1365.99,835.79 1369.59,834.57 1373.19,833.36 1376.79,832.15 1380.39,830.95 1383.99,829.75 1387.59,828.56 1391.19,827.38 1394.79,826.2 1398.39,825.02 1401.99,823.85 1405.59,822.69 1409.19,821.53 1412.78,820.38 1416.38,819.24 1419.98,818.09 1423.58,816.96 1427.18,815.83 1430.78,814.7 1434.38,813.58 1437.98,812.47 1441.58,811.36 1445.18,810.26 1448.78,809.16 1452.38,808.07 1455.98,806.98 1459.58,805.9 1463.18,804.82 1466.78,803.75 1470.38,802.68 1473.98,801.62 1477.58,800.56 1481.18,799.51 1484.78,798.46 1488.38,797.42 1491.98,796.38 1495.57,795.34 1499.17,794.32 1502.77,793.29 1506.37,792.28 1509.97,791.26 1513.57,790.25 1517.17,789.25 1520.77,788.25 1524.37,787.26 1527.97,786.27 1531.57,785.28 1535.17,784.3 1538.77,783.33 1542.37,782.36 1545.97,781.39 1549.57,780.43 1553.17,779.47 1556.77,778.52 1560.37,777.57 1563.97,776.63 1567.57,775.69 1571.17,774.75 1574.76,773.82 1578.36,772.9 1581.96,771.98 1585.56,771.06 1589.16,770.15 1592.76,769.24 1596.36,768.33 1599.96,767.43 1603.56,766.54 1607.16,765.65 1610.76,764.76 1614.36,763.88 1617.96,763 1621.56,762.12 1625.16,761.25 1628.76,760.39 1632.36,759.52 1635.96,758.67 1639.56,757.81 1643.16,756.96 1646.76,756.12 1650.36,755.27 1653.95,754.44 1657.55,753.6 1661.15,752.77 1664.75,751.94 1668.35,751.12 1671.95,750.3 1675.55,749.49 1679.15,748.68 1682.75,747.87 1686.35,747.07 1689.95,746.27 1693.55,745.47 1697.15,744.68 1700.75,743.9 1704.35,743.11 1707.95,742.33 1711.55,741.55 1715.15,740.78 1718.75,740.01 1722.35,739.25 1725.95,738.48 1729.55,737.72 1733.14,736.97 1736.74,736.22 1740.34,735.47 1743.94,734.73 1747.54,733.99 1751.14,733.25 1754.74,732.51 1758.34,731.78 1761.94,731.06 1765.54,730.33 1769.14,729.61 1772.74,728.9 1776.34,728.18 1779.94,727.48 1783.54,726.77 1787.14,726.07 1790.74,725.37 1794.34,724.67 1797.94,723.98 1801.54,723.29 1805.14,722.6 1808.74,721.92 1812.34,721.24 1815.93,720.56 1819.53,719.89 1823.13,719.22 1826.73,718.55 1830.33,717.88 1833.93,717.22 1837.53,716.57 1841.13,715.91 1844.73,715.26 1848.33,714.61 1851.93,713.97 1855.53,713.32 1859.13,712.68 1862.73,712.05 1866.33,711.41 1869.93,710.78 1873.53,710.16 1877.13,709.53 1880.73,708.91 1884.33,708.29 1887.93,707.68 1891.53,707.06 1895.12,706.45 1898.72,705.85 1902.32,705.24 1905.92,704.64 1909.52,704.04 1913.12,703.45 1916.72,702.86 1920.32,702.27 1923.92,701.68 1927.52,701.09 1931.12,700.51 1934.72,699.93 1938.32,699.36 1941.92,698.79 1945.52,698.21 1949.12,697.65 1952.72,697.08 1956.32,696.52 1959.92,695.96 1963.52,695.4 1967.12,694.85 1970.72,694.3 1974.31,693.75 1977.91,693.2 1981.51,692.66 1985.11,692.11 1988.71,691.58 1992.31,691.04 1995.91,690.51 1999.51,689.97 2003.11,689.45 2006.71,688.92 2010.31,688.4 2013.91,687.87 2017.51,687.35 2021.11,686.84 2024.71,686.32 2028.31,685.81 2031.91,685.3 2035.51,684.8 2039.11,684.29 2042.71,683.79 2046.31,683.29 2049.91,682.79 2053.5,682.3 2057.1,681.81 2060.7,681.32" fill="none" stroke="#000000" stroke-width="4.1"/>
</g>
<g clip-path="url(#bc3)">
<circle cx="1302.86" cy="1039.57" r="4.9" fill="none" stroke="#c080c0" stroke-width="1"/><circle cx="1302.86" cy="1039.57" r="0.8" fill="#c080c0"/>
<circle cx="1312.38" cy="1020.52" r="4.9" fill="none" stroke="#c080c0" stroke-width="1"/><circle cx="1312.38" cy="1020.52" r="0.8" fill="#c080c0"/>
<circle cx="1321.9" cy="1023.57" r="4.9" fill="none" stroke="#c080c0" stroke-width="1"/><circle cx="1321.9" cy="1023.57" r="0.8" fill="#c080c0"/>
<circle cx="1331.43" cy="1028.14" r="4.9" fill="none" stroke="#c080c0" stroke-width="1"/><circle cx="1331.43" cy="1028.14" r="0.8" fill="#c080c0"/>
<circle cx="1340.95" cy="1028.14" r="4.9" fill="none" stroke="#c080c0" stroke-width="1"/><circle cx="1340.95" cy="1028.14" r="0.8" fill="#c080c0"/>
<circle cx="1350.48" cy="1024.33" r="4.9" fill="none" stroke="#c080c0" stroke-width="1"/><circle cx="1350.48" cy="1024.33" r="0.8" fill="#c080c0"/>
<circle cx="1360" cy="1016.71" r="4.9" fill="none" stroke="#c080c0" stroke-width="1"/><circle cx="1360" cy="1016.71" r="0.8" fill="#c080c0"/>
<circle cx="1369.52" cy="1006.43" r="4.9" fill="none" stroke="#c080c0" stroke-width="1"/><circle cx="1369.52" cy="1006.43" r="0.8" fill="#c080c0"/>
<circle cx="1379.05" cy="1005.67" r="4.9" fill="none" stroke="#c080c0" stroke-width="1"/><circle cx="1379.05" cy="1005.67" r="0.8" fill="#c080c0"/>
<circle cx="1388.57" cy="1002.62" r="4.9" fill="none" stroke="#c080c0" stroke-width="1"/><circle cx="1388.57" cy="1002.62" r="0.8" fill="#c080c0"/>
<circle cx="1398.1" cy="1005.67" r="4.9" fill="none" stroke="#c080c0" stroke-width="1"/><circle cx="1398.1" cy="1005.67" r="0.8" fill="#c080c0"/>
<circle cx="1407.62" cy="992.33" r="4.9" fill="none" stroke="#c080c0" stroke-width="1"/><circle cx="1407.62" cy="992.33" r="0.8" fill="#c080c0"/>
<circle cx="1417.14" cy="991.95" r="4.9" fill="none" stroke="#c080c0" stroke-width="1"/><circle cx="1417.14" cy="991.95" r="0.8" fill="#c080c0"/>
<circle cx="1426.67" cy="981.67" r="4.9" fill="none" stroke="#c080c0" stroke-width="1"/><circle cx="1426.67" cy="981.67" r="0.8" fill="#c080c0"/>
<circle cx="1436.19" cy="974.81" r="4.9" fill="none" stroke="#c080c0" stroke-width="1"/><circle cx="1436.19" cy="974.81" r="0.8" fill="#c080c0"/>
<circle cx="1445.71" cy="961.48" r="4.9" fill="none" stroke="#c080c0" stroke-width="1"/><circle cx="1445.71" cy="961.48" r="0.8" fill="#c080c0"/>
<circle cx="1455.24" cy="937.86" r="4.9" fill="none" stroke="#c080c0" stroke-width="1"/><circle cx="1455.24" cy="937.86" r="0.8" fill="#c080c0"/>
<circle cx="1464.76" cy="962.62" r="4.9" fill="none" stroke="#c080c0" stroke-width="1"/><circle cx="1464.76" cy="962.62" r="0.8" fill="#c080c0"/>
<circle cx="1474.29" cy="962.62" r="4.9" fill="none" stroke="#c080c0" stroke-width="1"/><circle cx="1474.29" cy="962.62" r="0.8" fill="#c080c0"/>
<circle cx="1484.57" cy="939.76" r="4.9" fill="none" stroke="#c080c0" stroke-width="1"/><circle cx="1484.57" cy="939.76" r="0.8" fill="#c080c0"/>
<circle cx="1494.1" cy="948.14" r="4.9" fill="none" stroke="#c080c0" stroke-width="1"/><circle cx="1494.1" cy="948.14" r="0.8" fill="#c080c0"/>
<circle cx="1504" cy="926.43" r="4.9" fill="none" stroke="#c080c0" stroke-width="1"/><circle cx="1504" cy="926.43" r="0.8" fill="#c080c0"/>
<circle cx="1523.05" cy="918.05" r="4.9" fill="none" stroke="#c080c0" stroke-width="1"/><circle cx="1523.05" cy="918.05" r="0.8" fill="#c080c0"/>
<circle cx="1532.57" cy="926.43" r="4.9" fill="none" stroke="#c080c0" stroke-width="1"/><circle cx="1532.57" cy="926.43" r="0.8" fill="#c080c0"/>
<circle cx="1542.1" cy="920.71" r="4.9" fill="none" stroke="#c080c0" stroke-width="1"/><circle cx="1542.1" cy="920.71" r="0.8" fill="#c080c0"/>
<circle cx="1551.62" cy="920.71" r="4.9" fill="none" stroke="#c080c0" stroke-width="1"/><circle cx="1551.62" cy="920.71" r="0.8" fill="#c080c0"/>
<circle cx="1561.14" cy="918.05" r="4.9" fill="none" stroke="#c080c0" stroke-width="1"/><circle cx="1561.14" cy="918.05" r="0.8" fill="#c080c0"/>
<circle cx="1571.43" cy="932.14" r="4.9" fill="none" stroke="#c080c0" stroke-width="1"/><circle cx="1571.43" cy="932.14" r="0.8" fill="#c080c0"/>
<circle cx="1580.95" cy="913.1" r="4.9" fill="none" stroke="#c080c0" stroke-width="1"/><circle cx="1580.95" cy="913.1" r="0.8" fill="#c080c0"/>
<circle cx="1590.48" cy="918.05" r="4.9" fill="none" stroke="#c080c0" stroke-width="1"/><circle cx="1590.48" cy="918.05" r="0.8" fill="#c080c0"/>
<circle cx="1600" cy="907.38" r="4.9" fill="none" stroke="#c080c0" stroke-width="1"/><circle cx="1600" cy="907.38" r="0.8" fill="#c080c0"/>
<circle cx="1609.52" cy="888.33" r="4.9" fill="none" stroke="#c080c0" stroke-width="1"/><circle cx="1609.52" cy="888.33" r="0.8" fill="#c080c0"/>
<circle cx="1619.05" cy="866.24" r="4.9" fill="none" stroke="#c080c0" stroke-width="1"/><circle cx="1619.05" cy="866.24" r="0.8" fill="#c080c0"/>
<circle cx="1628.57" cy="905.48" r="4.9" fill="none" stroke="#c080c0" stroke-width="1"/><circle cx="1628.57" cy="905.48" r="0.8" fill="#c080c0"/>
<circle cx="1638.1" cy="885.29" r="4.9" fill="none" stroke="#c080c0" stroke-width="1"/><circle cx="1638.1" cy="885.29" r="0.8" fill="#c080c0"/>
<circle cx="1647.62" cy="858.62" r="4.9" fill="none" stroke="#c080c0" stroke-width="1"/><circle cx="1647.62" cy="858.62" r="0.8" fill="#c080c0"/>
<circle cx="1657.14" cy="885.29" r="4.9" fill="none" stroke="#c080c0" stroke-width="1"/><circle cx="1657.14" cy="885.29" r="0.8" fill="#c080c0"/>
<circle cx="1666.67" cy="878.81" r="4.9" fill="none" stroke="#c080c0" stroke-width="1"/><circle cx="1666.67" cy="878.81" r="0.8" fill="#c080c0"/>
<circle cx="1676.19" cy="878.81" r="4.9" fill="none" stroke="#c080c0" stroke-width="1"/><circle cx="1676.19" cy="878.81" r="0.8" fill="#c080c0"/>
<circle cx="1685.71" cy="873.1" r="4.9" fill="none" stroke="#c080c0" stroke-width="1"/><circle cx="1685.71" cy="873.1" r="0.8" fill="#c080c0"/>
<circle cx="1695.24" cy="865.48" r="4.9" fill="none" stroke="#c080c0" stroke-width="1"/><circle cx="1695.24" cy="865.48" r="0.8" fill="#c080c0"/>
<circle cx="1714.29" cy="871.19" r="4.9" fill="none" stroke="#c080c0" stroke-width="1"/><circle cx="1714.29" cy="871.19" r="0.8" fill="#c080c0"/>
<circle cx="1723.81" cy="852.14" r="4.9" fill="none" stroke="#c080c0" stroke-width="1"/><circle cx="1723.81" cy="852.14" r="0.8" fill="#c080c0"/>
<circle cx="1733.33" cy="870.43" r="4.9" fill="none" stroke="#c080c0" stroke-width="1"/><circle cx="1733.33" cy="870.43" r="0.8" fill="#c080c0"/>
<circle cx="1742.86" cy="844.52" r="4.9" fill="none" stroke="#c080c0" stroke-width="1"/><circle cx="1742.86" cy="844.52" r="0.8" fill="#c080c0"/>
<circle cx="1752.38" cy="854.81" r="4.9" fill="none" stroke="#c080c0" stroke-width="1"/><circle cx="1752.38" cy="854.81" r="0.8" fill="#c080c0"/>
<circle cx="1761.9" cy="851" r="4.9" fill="none" stroke="#c080c0" stroke-width="1"/><circle cx="1761.9" cy="851" r="0.8" fill="#c080c0"/>
<circle cx="1772.19" cy="849.1" r="4.9" fill="none" stroke="#c080c0" stroke-width="1"/><circle cx="1772.19" cy="849.1" r="0.8" fill="#c080c0"/>
<circle cx="1782.1" cy="871.95" r="4.9" fill="none" stroke="#c080c0" stroke-width="1"/><circle cx="1782.1" cy="871.95" r="0.8" fill="#c080c0"/>
<circle cx="1791.62" cy="873.86" r="4.9" fill="none" stroke="#c080c0" stroke-width="1"/><circle cx="1791.62" cy="873.86" r="0.8" fill="#c080c0"/>
<circle cx="1801.14" cy="875" r="4.9" fill="none" stroke="#c080c0" stroke-width="1"/><circle cx="1801.14" cy="875" r="0.8" fill="#c080c0"/>
<circle cx="1810.67" cy="853.29" r="4.9" fill="none" stroke="#c080c0" stroke-width="1"/><circle cx="1810.67" cy="853.29" r="0.8" fill="#c080c0"/>
<circle cx="1820.19" cy="869.29" r="4.9" fill="none" stroke="#c080c0" stroke-width="1"/><circle cx="1820.19" cy="869.29" r="0.8" fill="#c080c0"/>
<circle cx="1829.71" cy="868.52" r="4.9" fill="none" stroke="#c080c0" stroke-width="1"/><circle cx="1829.71" cy="868.52" r="0.8" fill="#c080c0"/>
<circle cx="1839.24" cy="876.9" r="4.9" fill="none" stroke="#c080c0" stroke-width="1"/><circle cx="1839.24" cy="876.9" r="0.8" fill="#c080c0"/>
<circle cx="1848.76" cy="866.62" r="4.9" fill="none" stroke="#c080c0" stroke-width="1"/><circle cx="1848.76" cy="866.62" r="0.8" fill="#c080c0"/>
<circle cx="1897.14" cy="857.1" r="4.9" fill="none" stroke="#c080c0" stroke-width="1"/><circle cx="1897.14" cy="857.1" r="0.8" fill="#c080c0"/>
<circle cx="1906.67" cy="857.1" r="4.9" fill="none" stroke="#c080c0" stroke-width="1"/><circle cx="1906.67" cy="857.1" r="0.8" fill="#c080c0"/>
<circle cx="1916.19" cy="852.14" r="4.9" fill="none" stroke="#c080c0" stroke-width="1"/><circle cx="1916.19" cy="852.14" r="0.8" fill="#c080c0"/>
<circle cx="1963.81" cy="853.29" r="4.9" fill="none" stroke="#c080c0" stroke-width="1"/><circle cx="1963.81" cy="853.29" r="0.8" fill="#c080c0"/>
<circle cx="1992.38" cy="846.43" r="4.9" fill="none" stroke="#c080c0" stroke-width="1"/><circle cx="1992.38" cy="846.43" r="0.8" fill="#c080c0"/>
<polyline points="1292.8,1040.02 1296.64,1037.94 1300.48,1035.87 1304.32,1033.82 1308.16,1031.78 1312,1029.77 1315.84,1027.77 1319.68,1025.78 1323.52,1023.81 1327.36,1021.85 1331.2,1019.92 1335.03,1017.99 1338.87,1016.08 1342.71,1014.19 1346.55,1012.31 1350.39,1010.45 1354.23,1008.6 1358.07,1006.77 1361.91,1004.95 1365.75,1003.15 1369.59,1001.36 1373.43,999.58 1377.27,997.82 1381.11,996.07 1384.95,994.34 1388.79,992.62 1392.63,990.91 1396.47,989.22 1400.31,987.54 1404.15,985.88 1407.99,984.23 1411.83,982.59 1415.66,980.96 1419.5,979.35 1423.34,977.75 1427.18,976.16 1431.02,974.59 1434.86,973.02 1438.7,971.47 1442.54,969.94 1446.38,968.41 1450.22,966.9 1454.06,965.4 1457.9,963.91 1461.74,962.43 1465.58,960.97 1469.42,959.51 1473.26,958.07 1477.1,956.64 1480.94,955.22 1484.78,953.81 1488.62,952.42 1492.46,951.03 1496.29,949.66 1500.13,948.29 1503.97,946.94 1507.81,945.6 1511.65,944.27 1515.49,942.95 1519.33,941.64 1523.17,940.34 1527.01,939.05 1530.85,937.77 1534.69,936.5 1538.53,935.24 1542.37,933.99 1546.21,932.75 1550.05,931.52 1553.89,930.31 1557.73,929.1 1561.57,927.9 1565.41,926.71 1569.25,925.53 1573.08,924.35 1576.92,923.19 1580.76,922.04 1584.6,920.9 1588.44,919.76 1592.28,918.64 1596.12,917.52 1599.96,916.41 1603.8,915.31 1607.64,914.22 1611.48,913.14 1615.32,912.07 1619.16,911.01 1623,909.95 1626.84,908.9 1630.68,907.86 1634.52,906.83 1638.36,905.81 1642.2,904.8 1646.04,903.79 1649.88,902.79 1653.71,901.8 1657.55,900.82 1661.39,899.85 1665.23,898.88 1669.07,897.92 1672.91,896.97 1676.75,896.03 1680.59,895.09 1684.43,894.16 1688.27,893.24 1692.11,892.33 1695.95,891.42 1699.79,890.52 1703.63,889.63 1707.47,888.74 1711.31,887.86 1715.15,886.99 1718.99,886.13 1722.83,885.27 1726.67,884.42 1730.51,883.58 1734.34,882.74 1738.18,881.91 1742.02,881.09 1745.86,880.27 1749.7,879.46 1753.54,878.65 1757.38,877.86 1761.22,877.06 1765.06,876.28 1768.9,875.5 1772.74,874.73 1776.58,873.96 1780.42,873.2 1784.26,872.45 1788.1,871.7 1791.94,870.96 1795.78,870.22 1799.62,869.49 1803.46,868.76 1807.3,868.04 1811.14,867.33 1814.97,866.62 1818.81,865.92 1822.65,865.23 1826.49,864.54 1830.33,863.85 1834.17,863.17 1838.01,862.5 1841.85,861.83 1845.69,861.16 1849.53,860.5 1853.37,859.85 1857.21,859.2 1861.05,858.56 1864.89,857.92 1868.73,857.29 1872.57,856.66 1876.41,856.04 1880.25,855.42 1884.09,854.81 1887.93,854.2 1891.77,853.6 1895.6,853 1899.44,852.41 1903.28,851.82 1907.12,851.23 1910.96,850.66 1914.8,850.08 1918.64,849.51 1922.48,848.95 1926.32,848.38 1930.16,847.83 1934,847.28 1937.84,846.73 1941.68,846.18 1945.52,845.65 1949.36,845.11 1953.2,844.58 1957.04,844.05 1960.88,843.53 1964.72,843.01 1968.56,842.5 1972.4,841.99 1976.23,841.48 1980.07,840.98 1983.91,840.49 1987.75,839.99 1991.59,839.5 1995.43,839.02 1999.27,838.53 2003.11,838.06 2006.95,837.58 2010.79,837.11 2014.63,836.64 2018.47,836.18 2022.31,835.72 2026.15,835.27 2029.99,834.81 2033.83,834.37 2037.67,833.92 2041.51,833.48 2045.35,833.04 2049.19,832.61 2053.02,832.18 2056.86,831.75 2060.7,831.32" fill="none" stroke="#800080" stroke-width="4.1"/>
</g>
<g clip-path="url(#bc4)">
<circle cx="1293.33" cy="1231.9" r="4.9" fill="none" stroke="#80c080" stroke-width="1"/><circle cx="1293.33" cy="1231.9" r="0.8" fill="#80c080"/>
<circle cx="1302.86" cy="1231.9" r="4.9" fill="none" stroke="#80c080" stroke-width="1"/><circle cx="1302.86" cy="1231.9" r="0.8" fill="#80c080"/>
<circle cx="1312.38" cy="1230" r="4.9" fill="none" stroke="#80c080" stroke-width="1"/><circle cx="1312.38" cy="1230" r="0.8" fill="#80c080"/>
<circle cx="1321.9" cy="1227.33" r="4.9" fill="none" stroke="#80c080" stroke-width="1"/><circle cx="1321.9" cy="1227.33" r="0.8" fill="#80c080"/>
<circle cx="1331.43" cy="1224.29" r="4.9" fill="none" stroke="#80c080" stroke-width="1"/><circle cx="1331.43" cy="1224.29" r="0.8" fill="#80c080"/>
<circle cx="1340.95" cy="1220.48" r="4.9" fill="none" stroke="#80c080" stroke-width="1"/><circle cx="1340.95" cy="1220.48" r="0.8" fill="#80c080"/>
<circle cx="1350.48" cy="1212.86" r="4.9" fill="none" stroke="#80c080" stroke-width="1"/><circle cx="1350.48" cy="1212.86" r="0.8" fill="#80c080"/>
<circle cx="1360" cy="1207.9" r="4.9" fill="none" stroke="#80c080" stroke-width="1"/><circle cx="1360" cy="1207.9" r="0.8" fill="#80c080"/>
<circle cx="1369.52" cy="1202.19" r="4.9" fill="none" stroke="#80c080" stroke-width="1"/><circle cx="1369.52" cy="1202.19" r="0.8" fill="#80c080"/>
<circle cx="1379.05" cy="1198.38" r="4.9" fill="none" stroke="#80c080" stroke-width="1"/><circle cx="1379.05" cy="1198.38" r="0.8" fill="#80c080"/>
<circle cx="1388.57" cy="1191.9" r="4.9" fill="none" stroke="#80c080" stroke-width="1"/><circle cx="1388.57" cy="1191.9" r="0.8" fill="#80c080"/>
<circle cx="1398.1" cy="1184.29" r="4.9" fill="none" stroke="#80c080" stroke-width="1"/><circle cx="1398.1" cy="1184.29" r="0.8" fill="#80c080"/>
<circle cx="1407.62" cy="1178.57" r="4.9" fill="none" stroke="#80c080" stroke-width="1"/><circle cx="1407.62" cy="1178.57" r="0.8" fill="#80c080"/>
<circle cx="1417.14" cy="1171.71" r="4.9" fill="none" stroke="#80c080" stroke-width="1"/><circle cx="1417.14" cy="1171.71" r="0.8" fill="#80c080"/>
<circle cx="1426.67" cy="1169.05" r="4.9" fill="none" stroke="#80c080" stroke-width="1"/><circle cx="1426.67" cy="1169.05" r="0.8" fill="#80c080"/>
<circle cx="1436.19" cy="1160.29" r="4.9" fill="none" stroke="#80c080" stroke-width="1"/><circle cx="1436.19" cy="1160.29" r="0.8" fill="#80c080"/>
<circle cx="1445.71" cy="1153.81" r="4.9" fill="none" stroke="#80c080" stroke-width="1"/><circle cx="1445.71" cy="1153.81" r="0.8" fill="#80c080"/>
<circle cx="1455.24" cy="1145.05" r="4.9" fill="none" stroke="#80c080" stroke-width="1"/><circle cx="1455.24" cy="1145.05" r="0.8" fill="#80c080"/>
<circle cx="1464.76" cy="1141.24" r="4.9" fill="none" stroke="#80c080" stroke-width="1"/><circle cx="1464.76" cy="1141.24" r="0.8" fill="#80c080"/>
<circle cx="1474.29" cy="1137.43" r="4.9" fill="none" stroke="#80c080" stroke-width="1"/><circle cx="1474.29" cy="1137.43" r="0.8" fill="#80c080"/>
<circle cx="1484.57" cy="1127.14" r="4.9" fill="none" stroke="#80c080" stroke-width="1"/><circle cx="1484.57" cy="1127.14" r="0.8" fill="#80c080"/>
<circle cx="1494.1" cy="1124.1" r="4.9" fill="none" stroke="#80c080" stroke-width="1"/><circle cx="1494.1" cy="1124.1" r="0.8" fill="#80c080"/>
<circle cx="1504" cy="1125.24" r="4.9" fill="none" stroke="#80c080" stroke-width="1"/><circle cx="1504" cy="1125.24" r="0.8" fill="#80c080"/>
<circle cx="1513.52" cy="1118.38" r="4.9" fill="none" stroke="#80c080" stroke-width="1"/><circle cx="1513.52" cy="1118.38" r="0.8" fill="#80c080"/>
<circle cx="1523.05" cy="1115.71" r="4.9" fill="none" stroke="#80c080" stroke-width="1"/><circle cx="1523.05" cy="1115.71" r="0.8" fill="#80c080"/>
<circle cx="1532.57" cy="1116.86" r="4.9" fill="none" stroke="#80c080" stroke-width="1"/><circle cx="1532.57" cy="1116.86" r="0.8" fill="#80c080"/>
<circle cx="1542.1" cy="1110" r="4.9" fill="none" stroke="#80c080" stroke-width="1"/><circle cx="1542.1" cy="1110" r="0.8" fill="#80c080"/>
<circle cx="1551.62" cy="1108.1" r="4.9" fill="none" stroke="#80c080" stroke-width="1"/><circle cx="1551.62" cy="1108.1" r="0.8" fill="#80c080"/>
<circle cx="1561.14" cy="1101.24" r="4.9" fill="none" stroke="#80c080" stroke-width="1"/><circle cx="1561.14" cy="1101.24" r="0.8" fill="#80c080"/>
<circle cx="1571.43" cy="1098.57" r="4.9" fill="none" stroke="#80c080" stroke-width="1"/><circle cx="1571.43" cy="1098.57" r="0.8" fill="#80c080"/>
<circle cx="1580.95" cy="1095.52" r="4.9" fill="none" stroke="#80c080" stroke-width="1"/><circle cx="1580.95" cy="1095.52" r="0.8" fill="#80c080"/>
<circle cx="1590.48" cy="1094" r="4.9" fill="none" stroke="#80c080" stroke-width="1"/><circle cx="1590.48" cy="1094" r="0.8" fill="#80c080"/>
<circle cx="1600" cy="1097.81" r="4.9" fill="none" stroke="#80c080" stroke-width="1"/><circle cx="1600" cy="1097.81" r="0.8" fill="#80c080"/>
<circle cx="1609.52" cy="1097.81" r="4.9" fill="none" stroke="#80c080" stroke-width="1"/><circle cx="1609.52" cy="1097.81" r="0.8" fill="#80c080"/>
<circle cx="1619.05" cy="1084.1" r="4.9" fill="none" stroke="#80c080" stroke-width="1"/><circle cx="1619.05" cy="1084.1" r="0.8" fill="#80c080"/>
<circle cx="1628.57" cy="1086.38" r="4.9" fill="none" stroke="#80c080" stroke-width="1"/><circle cx="1628.57" cy="1086.38" r="0.8" fill="#80c080"/>
<circle cx="1638.1" cy="1082.19" r="4.9" fill="none" stroke="#80c080" stroke-width="1"/><circle cx="1638.1" cy="1082.19" r="0.8" fill="#80c080"/>
<circle cx="1647.62" cy="1079.52" r="4.9" fill="none" stroke="#80c080" stroke-width="1"/><circle cx="1647.62" cy="1079.52" r="0.8" fill="#80c080"/>
<circle cx="1657.14" cy="1076.86" r="4.9" fill="none" stroke="#80c080" stroke-width="1"/><circle cx="1657.14" cy="1076.86" r="0.8" fill="#80c080"/>
<circle cx="1666.67" cy="1075.71" r="4.9" fill="none" stroke="#80c080" stroke-width="1"/><circle cx="1666.67" cy="1075.71" r="0.8" fill="#80c080"/>
<circle cx="1676.19" cy="1076.48" r="4.9" fill="none" stroke="#80c080" stroke-width="1"/><circle cx="1676.19" cy="1076.48" r="0.8" fill="#80c080"/>
<circle cx="1685.71" cy="1078.76" r="4.9" fill="none" stroke="#80c080" stroke-width="1"/><circle cx="1685.71" cy="1078.76" r="0.8" fill="#80c080"/>
<circle cx="1695.24" cy="1080.29" r="4.9" fill="none" stroke="#80c080" stroke-width="1"/><circle cx="1695.24" cy="1080.29" r="0.8" fill="#80c080"/>
<circle cx="1704.76" cy="1078.76" r="4.9" fill="none" stroke="#80c080" stroke-width="1"/><circle cx="1704.76" cy="1078.76" r="0.8" fill="#80c080"/>
<circle cx="1714.29" cy="1077.62" r="4.9" fill="none" stroke="#80c080" stroke-width="1"/><circle cx="1714.29" cy="1077.62" r="0.8" fill="#80c080"/>
<circle cx="1723.81" cy="1080.29" r="4.9" fill="none" stroke="#80c080" stroke-width="1"/><circle cx="1723.81" cy="1080.29" r="0.8" fill="#80c080"/>
<circle cx="1733.33" cy="1071.9" r="4.9" fill="none" stroke="#80c080" stroke-width="1"/><circle cx="1733.33" cy="1071.9" r="0.8" fill="#80c080"/>
<circle cx="1742.86" cy="1070" r="4.9" fill="none" stroke="#80c080" stroke-width="1"/><circle cx="1742.86" cy="1070" r="0.8" fill="#80c080"/>
<circle cx="1752.38" cy="1068.1" r="4.9" fill="none" stroke="#80c080" stroke-width="1"/><circle cx="1752.38" cy="1068.1" r="0.8" fill="#80c080"/>
<circle cx="1761.9" cy="1065.05" r="4.9" fill="none" stroke="#80c080" stroke-width="1"/><circle cx="1761.9" cy="1065.05" r="0.8" fill="#80c080"/>
<circle cx="1772.19" cy="1049.81" r="4.9" fill="none" stroke="#80c080" stroke-width="1"/><circle cx="1772.19" cy="1049.81" r="0.8" fill="#80c080"/>
<circle cx="1782.1" cy="1055.9" r="4.9" fill="none" stroke="#80c080" stroke-width="1"/><circle cx="1782.1" cy="1055.9" r="0.8" fill="#80c080"/>
<circle cx="1791.62" cy="1053.62" r="4.9" fill="none" stroke="#80c080" stroke-width="1"/><circle cx="1791.62" cy="1053.62" r="0.8" fill="#80c080"/>
<circle cx="1801.14" cy="1050.95" r="4.9" fill="none" stroke="#80c080" stroke-width="1"/><circle cx="1801.14" cy="1050.95" r="0.8" fill="#80c080"/>
<circle cx="1810.67" cy="1046" r="4.9" fill="none" stroke="#80c080" stroke-width="1"/><circle cx="1810.67" cy="1046" r="0.8" fill="#80c080"/>
<circle cx="1820.19" cy="1048.29" r="4.9" fill="none" stroke="#80c080" stroke-width="1"/><circle cx="1820.19" cy="1048.29" r="0.8" fill="#80c080"/>
<circle cx="1829.71" cy="1048.29" r="4.9" fill="none" stroke="#80c080" stroke-width="1"/><circle cx="1829.71" cy="1048.29" r="0.8" fill="#80c080"/>
<circle cx="1839.24" cy="1048.29" r="4.9" fill="none" stroke="#80c080" stroke-width="1"/><circle cx="1839.24" cy="1048.29" r="0.8" fill="#80c080"/>
<circle cx="1848.76" cy="1052.86" r="4.9" fill="none" stroke="#80c080" stroke-width="1"/><circle cx="1848.76" cy="1052.86" r="0.8" fill="#80c080"/>
<circle cx="1858.29" cy="1051.71" r="4.9" fill="none" stroke="#80c080" stroke-width="1"/><circle cx="1858.29" cy="1051.71" r="0.8" fill="#80c080"/>
<circle cx="1867.81" cy="1049.81" r="4.9" fill="none" stroke="#80c080" stroke-width="1"/><circle cx="1867.81" cy="1049.81" r="0.8" fill="#80c080"/>
<circle cx="1878.1" cy="1045.24" r="4.9" fill="none" stroke="#80c080" stroke-width="1"/><circle cx="1878.1" cy="1045.24" r="0.8" fill="#80c080"/>
<circle cx="1887.62" cy="1043.33" r="4.9" fill="none" stroke="#80c080" stroke-width="1"/><circle cx="1887.62" cy="1043.33" r="0.8" fill="#80c080"/>
<circle cx="1897.14" cy="1046" r="4.9" fill="none" stroke="#80c080" stroke-width="1"/><circle cx="1897.14" cy="1046" r="0.8" fill="#80c080"/>
<circle cx="1906.67" cy="1046" r="4.9" fill="none" stroke="#80c080" stroke-width="1"/><circle cx="1906.67" cy="1046" r="0.8" fill="#80c080"/>
<circle cx="1916.19" cy="1045.24" r="4.9" fill="none" stroke="#80c080" stroke-width="1"/><circle cx="1916.19" cy="1045.24" r="0.8" fill="#80c080"/>
<circle cx="1925.71" cy="1043.33" r="4.9" fill="none" stroke="#80c080" stroke-width="1"/><circle cx="1925.71" cy="1043.33" r="0.8" fill="#80c080"/>
<circle cx="1935.24" cy="1044.48" r="4.9" fill="none" stroke="#80c080" stroke-width="1"/><circle cx="1935.24" cy="1044.48" r="0.8" fill="#80c080"/>
<circle cx="1944.76" cy="1050.95" r="4.9" fill="none" stroke="#80c080" stroke-width="1"/><circle cx="1944.76" cy="1050.95" r="0.8" fill="#80c080"/>
<circle cx="1954.29" cy="1049.05" r="4.9" fill="none" stroke="#80c080" stroke-width="1"/><circle cx="1954.29" cy="1049.05" r="0.8" fill="#80c080"/>
<circle cx="1963.81" cy="1049.05" r="4.9" fill="none" stroke="#80c080" stroke-width="1"/><circle cx="1963.81" cy="1049.05" r="0.8" fill="#80c080"/>
<circle cx="1973.33" cy="1049.05" r="4.9" fill="none" stroke="#80c080" stroke-width="1"/><circle cx="1973.33" cy="1049.05" r="0.8" fill="#80c080"/>
<circle cx="1982.86" cy="1047.14" r="4.9" fill="none" stroke="#80c080" stroke-width="1"/><circle cx="1982.86" cy="1047.14" r="0.8" fill="#80c080"/>
<circle cx="1992.38" cy="1045.24" r="4.9" fill="none" stroke="#80c080" stroke-width="1"/><circle cx="1992.38" cy="1045.24" r="0.8" fill="#80c080"/>
<circle cx="2001.9" cy="1054.76" r="4.9" fill="none" stroke="#80c080" stroke-width="1"/><circle cx="2001.9" cy="1054.76" r="0.8" fill="#80c080"/>
<circle cx="2011.43" cy="1057.43" r="4.9" fill="none" stroke="#80c080" stroke-width="1"/><circle cx="2011.43" cy="1057.43" r="0.8" fill="#80c080"/>
<polyline points="1317.76,1235.55 1321.23,1232.48 1324.71,1229.45 1328.18,1226.47 1331.66,1223.53 1335.13,1220.64 1338.61,1217.79 1342.08,1214.98 1345.56,1212.21 1349.03,1209.49 1352.5,1206.81 1355.98,1204.16 1359.45,1201.56 1362.93,1198.99 1366.4,1196.47 1369.88,1193.98 1373.35,1191.53 1376.83,1189.11 1380.3,1186.74 1383.78,1184.39 1387.25,1182.09 1390.73,1179.81 1394.2,1177.57 1397.68,1175.37 1401.15,1173.19 1404.63,1171.05 1408.1,1168.95 1411.58,1166.87 1415.05,1164.83 1418.53,1162.81 1422,1160.83 1425.47,1158.87 1428.95,1156.95 1432.42,1155.05 1435.9,1153.18 1439.37,1151.34 1442.85,1149.53 1446.32,1147.74 1449.8,1145.98 1453.27,1144.25 1456.75,1142.54 1460.22,1140.86 1463.7,1139.21 1467.17,1137.57 1470.65,1135.97 1474.12,1134.39 1477.6,1132.83 1481.07,1131.29 1484.55,1129.78 1488.02,1128.29 1491.5,1126.82 1494.97,1125.37 1498.44,1123.95 1501.92,1122.55 1505.39,1121.17 1508.87,1119.8 1512.34,1118.46 1515.82,1117.14 1519.29,1115.84 1522.77,1114.56 1526.24,1113.3 1529.72,1112.06 1533.19,1110.83 1536.67,1109.62 1540.14,1108.44 1543.62,1107.27 1547.09,1106.11 1550.57,1104.98 1554.04,1103.86 1557.52,1102.76 1560.99,1101.67 1564.47,1100.6 1567.94,1099.55 1571.41,1098.51 1574.89,1097.49 1578.36,1096.48 1581.84,1095.49 1585.31,1094.51 1588.79,1093.55 1592.26,1092.6 1595.74,1091.67 1599.21,1090.75 1602.69,1089.84 1606.16,1088.95 1609.64,1088.07 1613.11,1087.21 1616.59,1086.35 1620.06,1085.51 1623.54,1084.69 1627.01,1083.87 1630.49,1083.07 1633.96,1082.28 1637.44,1081.5 1640.91,1080.73 1644.38,1079.98 1647.86,1079.23 1651.33,1078.5 1654.81,1077.78 1658.28,1077.06 1661.76,1076.36 1665.23,1075.67 1668.71,1074.99 1672.18,1074.32 1675.66,1073.66 1679.13,1073.01 1682.61,1072.37 1686.08,1071.74 1689.56,1071.12 1693.03,1070.51 1696.51,1069.91 1699.98,1069.31 1703.46,1068.73 1706.93,1068.15 1710.41,1067.58 1713.88,1067.03 1717.35,1066.47 1720.83,1065.93 1724.3,1065.4 1727.78,1064.87 1731.25,1064.35 1734.73,1063.84 1738.2,1063.34 1741.68,1062.84 1745.15,1062.36 1748.63,1061.88 1752.1,1061.4 1755.58,1060.94 1759.05,1060.48 1762.53,1060.02 1766,1059.58 1769.48,1059.14 1772.95,1058.71 1776.43,1058.28 1779.9,1057.86 1783.38,1057.45 1786.85,1057.04 1790.33,1056.64 1793.8,1056.24 1797.27,1055.85 1800.75,1055.47 1804.22,1055.09 1807.7,1054.72 1811.17,1054.35 1814.65,1053.99 1818.12,1053.64 1821.6,1053.29 1825.07,1052.94 1828.55,1052.6 1832.02,1052.27 1835.5,1051.94 1838.97,1051.61 1842.45,1051.29 1845.92,1050.98 1849.4,1050.67 1852.87,1050.36 1856.35,1050.06 1859.82,1049.76 1863.3,1049.47 1866.77,1049.18 1870.24,1048.9 1873.72,1048.62 1877.19,1048.35 1880.67,1048.08 1884.14,1047.81 1887.62,1047.55 1891.09,1047.29 1894.57,1047.03 1898.04,1046.78 1901.52,1046.53 1904.99,1046.29 1908.47,1046.05 1911.94,1045.81 1915.42,1045.58 1918.89,1045.35 1922.37,1045.12 1925.84,1044.9 1929.32,1044.68 1932.79,1044.46 1936.27,1044.25 1939.74,1044.04 1943.21,1043.84 1946.69,1043.63 1950.16,1043.43 1953.64,1043.23 1957.11,1043.04 1960.59,1042.85 1964.06,1042.66 1967.54,1042.47 1971.01,1042.29 1974.49,1042.11 1977.96,1041.93 1981.44,1041.76 1984.91,1041.59 1988.39,1041.42 1991.86,1041.25 1995.34,1041.08 1998.81,1040.92 2002.29,1040.76 2005.76,1040.6 2009.24,1040.45 2012.71,1040.3" fill="none" stroke="#008000" stroke-width="4.1"/>
</g>
<g clip-path="url(#bc5)">
<circle cx="1293.33" cy="1426.9" r="4.9" fill="none" stroke="#909090" stroke-width="1"/><circle cx="1293.33" cy="1426.9" r="0.8" fill="#909090"/>
<circle cx="1302.86" cy="1421.19" r="4.9" fill="none" stroke="#909090" stroke-width="1"/><circle cx="1302.86" cy="1421.19" r="0.8" fill="#909090"/>
<circle cx="1312.38" cy="1412.81" r="4.9" fill="none" stroke="#909090" stroke-width="1"/><circle cx="1312.38" cy="1412.81" r="0.8" fill="#909090"/>
<circle cx="1321.9" cy="1398.33" r="4.9" fill="none" stroke="#909090" stroke-width="1"/><circle cx="1321.9" cy="1398.33" r="0.8" fill="#909090"/>
<circle cx="1331.43" cy="1389.57" r="4.9" fill="none" stroke="#909090" stroke-width="1"/><circle cx="1331.43" cy="1389.57" r="0.8" fill="#909090"/>
<circle cx="1340.95" cy="1370.9" r="4.9" fill="none" stroke="#909090" stroke-width="1"/><circle cx="1340.95" cy="1370.9" r="0.8" fill="#909090"/>
<circle cx="1350.48" cy="1359.48" r="4.9" fill="none" stroke="#909090" stroke-width="1"/><circle cx="1350.48" cy="1359.48" r="0.8" fill="#909090"/>
<circle cx="1360" cy="1365.95" r="4.9" fill="none" stroke="#909090" stroke-width="1"/><circle cx="1360" cy="1365.95" r="0.8" fill="#909090"/>
<circle cx="1369.52" cy="1349.57" r="4.9" fill="none" stroke="#909090" stroke-width="1"/><circle cx="1369.52" cy="1349.57" r="0.8" fill="#909090"/>
<circle cx="1379.05" cy="1336.24" r="4.9" fill="none" stroke="#909090" stroke-width="1"/><circle cx="1379.05" cy="1336.24" r="0.8" fill="#909090"/>
<circle cx="1388.57" cy="1337.38" r="4.9" fill="none" stroke="#909090" stroke-width="1"/><circle cx="1388.57" cy="1337.38" r="0.8" fill="#909090"/>
<circle cx="1398.1" cy="1322.14" r="4.9" fill="none" stroke="#909090" stroke-width="1"/><circle cx="1398.1" cy="1322.14" r="0.8" fill="#909090"/>
<circle cx="1407.62" cy="1312.62" r="4.9" fill="none" stroke="#909090" stroke-width="1"/><circle cx="1407.62" cy="1312.62" r="0.8" fill="#909090"/>
<circle cx="1417.14" cy="1301.19" r="4.9" fill="none" stroke="#909090" stroke-width="1"/><circle cx="1417.14" cy="1301.19" r="0.8" fill="#909090"/>
<circle cx="1426.67" cy="1295.48" r="4.9" fill="none" stroke="#909090" stroke-width="1"/><circle cx="1426.67" cy="1295.48" r="0.8" fill="#909090"/>
<circle cx="1436.19" cy="1306.9" r="4.9" fill="none" stroke="#909090" stroke-width="1"/><circle cx="1436.19" cy="1306.9" r="0.8" fill="#909090"/>
<circle cx="1445.71" cy="1316.43" r="4.9" fill="none" stroke="#909090" stroke-width="1"/><circle cx="1445.71" cy="1316.43" r="0.8" fill="#909090"/>
<circle cx="1455.24" cy="1282.14" r="4.9" fill="none" stroke="#909090" stroke-width="1"/><circle cx="1455.24" cy="1282.14" r="0.8" fill="#909090"/>
<circle cx="1464.76" cy="1278.33" r="4.9" fill="none" stroke="#909090" stroke-width="1"/><circle cx="1464.76" cy="1278.33" r="0.8" fill="#909090"/>
<circle cx="1474.29" cy="1272.62" r="4.9" fill="none" stroke="#909090" stroke-width="1"/><circle cx="1474.29" cy="1272.62" r="0.8" fill="#909090"/>
<circle cx="1483.81" cy="1269.95" r="4.9" fill="none" stroke="#909090" stroke-width="1"/><circle cx="1483.81" cy="1269.95" r="0.8" fill="#909090"/>
<circle cx="1493.33" cy="1266.14" r="4.9" fill="none" stroke="#909090" stroke-width="1"/><circle cx="1493.33" cy="1266.14" r="0.8" fill="#909090"/>
<circle cx="1502.86" cy="1263.1" r="4.9" fill="none" stroke="#909090" stroke-width="1"/><circle cx="1502.86" cy="1263.1" r="0.8" fill="#909090"/>
<circle cx="1512.38" cy="1261.19" r="4.9" fill="none" stroke="#909090" stroke-width="1"/><circle cx="1512.38" cy="1261.19" r="0.8" fill="#909090"/>
<circle cx="1521.9" cy="1259.29" r="4.9" fill="none" stroke="#909090" stroke-width="1"/><circle cx="1521.9" cy="1259.29" r="0.8" fill="#909090"/>
<circle cx="1531.43" cy="1258.52" r="4.9" fill="none" stroke="#909090" stroke-width="1"/><circle cx="1531.43" cy="1258.52" r="0.8" fill="#909090"/>
<circle cx="1542.1" cy="1255.48" r="4.9" fill="none" stroke="#909090" stroke-width="1"/><circle cx="1542.1" cy="1255.48" r="0.8" fill="#909090"/>
<circle cx="1551.62" cy="1254.71" r="4.9" fill="none" stroke="#909090" stroke-width="1"/><circle cx="1551.62" cy="1254.71" r="0.8" fill="#909090"/>
<circle cx="1561.9" cy="1248.62" r="4.9" fill="none" stroke="#909090" stroke-width="1"/><circle cx="1561.9" cy="1248.62" r="0.8" fill="#909090"/>
<circle cx="1571.43" cy="1248.62" r="4.9" fill="none" stroke="#909090" stroke-width="1"/><circle cx="1571.43" cy="1248.62" r="0.8" fill="#909090"/>
<circle cx="1580.95" cy="1244.81" r="4.9" fill="none" stroke="#909090" stroke-width="1"/><circle cx="1580.95" cy="1244.81" r="0.8" fill="#909090"/>
<circle cx="1590.48" cy="1244.05" r="4.9" fill="none" stroke="#909090" stroke-width="1"/><circle cx="1590.48" cy="1244.05" r="0.8" fill="#909090"/>
<circle cx="1600" cy="1241" r="4.9" fill="none" stroke="#909090" stroke-width="1"/><circle cx="1600" cy="1241" r="0.8" fill="#909090"/>
<circle cx="1609.52" cy="1245.95" r="4.9" fill="none" stroke="#909090" stroke-width="1"/><circle cx="1609.52" cy="1245.95" r="0.8" fill="#909090"/>
<circle cx="1619.05" cy="1243.29" r="4.9" fill="none" stroke="#909090" stroke-width="1"/><circle cx="1619.05" cy="1243.29" r="0.8" fill="#909090"/>
<circle cx="1628.57" cy="1243.29" r="4.9" fill="none" stroke="#909090" stroke-width="1"/><circle cx="1628.57" cy="1243.29" r="0.8" fill="#909090"/>
<circle cx="1638.1" cy="1239.48" r="4.9" fill="none" stroke="#909090" stroke-width="1"/><circle cx="1638.1" cy="1239.48" r="0.8" fill="#909090"/>
<circle cx="1647.62" cy="1251.67" r="4.9" fill="none" stroke="#909090" stroke-width="1"/><circle cx="1647.62" cy="1251.67" r="0.8" fill="#909090"/>
<circle cx="1657.14" cy="1245.95" r="4.9" fill="none" stroke="#909090" stroke-width="1"/><circle cx="1657.14" cy="1245.95" r="0.8" fill="#909090"/>
<circle cx="1666.67" cy="1247.1" r="4.9" fill="none" stroke="#909090" stroke-width="1"/><circle cx="1666.67" cy="1247.1" r="0.8" fill="#909090"/>
<circle cx="1676.19" cy="1242.14" r="4.9" fill="none" stroke="#909090" stroke-width="1"/><circle cx="1676.19" cy="1242.14" r="0.8" fill="#909090"/>
<circle cx="1685.71" cy="1241.38" r="4.9" fill="none" stroke="#909090" stroke-width="1"/><circle cx="1685.71" cy="1241.38" r="0.8" fill="#909090"/>
<circle cx="1695.24" cy="1241" r="4.9" fill="none" stroke="#909090" stroke-width="1"/><circle cx="1695.24" cy="1241" r="0.8" fill="#909090"/>
<circle cx="1704.76" cy="1245.95" r="4.9" fill="none" stroke="#909090" stroke-width="1"/><circle cx="1704.76" cy="1245.95" r="0.8" fill="#909090"/>
<circle cx="1714.29" cy="1250.9" r="4.9" fill="none" stroke="#909090" stroke-width="1"/><circle cx="1714.29" cy="1250.9" r="0.8" fill="#909090"/>
<circle cx="1723.81" cy="1238.33" r="4.9" fill="none" stroke="#909090" stroke-width="1"/><circle cx="1723.81" cy="1238.33" r="0.8" fill="#909090"/>
<circle cx="1733.33" cy="1239.48" r="4.9" fill="none" stroke="#909090" stroke-width="1"/><circle cx="1733.33" cy="1239.48" r="0.8" fill="#909090"/>
<polyline points="1298.8,1431.08 1301.02,1427.44 1303.24,1423.86 1305.45,1420.35 1307.67,1416.9 1309.89,1413.52 1312.11,1410.2 1314.33,1406.94 1316.55,1403.74 1318.77,1400.6 1320.98,1397.51 1323.2,1394.48 1325.42,1391.51 1327.64,1388.59 1329.86,1385.73 1332.08,1382.92 1334.3,1380.15 1336.51,1377.44 1338.73,1374.78 1340.95,1372.17 1343.17,1369.61 1345.39,1367.09 1347.61,1364.62 1349.83,1362.2 1352.04,1359.81 1354.26,1357.48 1356.48,1355.18 1358.7,1352.93 1360.92,1350.72 1363.14,1348.55 1365.35,1346.42 1367.57,1344.32 1369.79,1342.27 1372.01,1340.26 1374.23,1338.28 1376.45,1336.33 1378.67,1334.43 1380.88,1332.55 1383.1,1330.72 1385.32,1328.91 1387.54,1327.14 1389.76,1325.4 1391.98,1323.69 1394.2,1322.02 1396.41,1320.37 1398.63,1318.76 1400.85,1317.17 1403.07,1315.62 1405.29,1314.09 1407.51,1312.59 1409.73,1311.12 1411.94,1309.67 1414.16,1308.25 1416.38,1306.86 1418.6,1305.49 1420.82,1304.15 1423.04,1302.83 1425.26,1301.54 1427.47,1300.27 1429.69,1299.02 1431.91,1297.8 1434.13,1296.6 1436.35,1295.42 1438.57,1294.26 1440.78,1293.12 1443,1292.01 1445.22,1290.91 1447.44,1289.84 1449.66,1288.78 1451.88,1287.75 1454.1,1286.73 1456.31,1285.73 1458.53,1284.75 1460.75,1283.79 1462.97,1282.84 1465.19,1281.92 1467.41,1281.01 1469.63,1280.11 1471.84,1279.24 1474.06,1278.37 1476.28,1277.53 1478.5,1276.7 1480.72,1275.88 1482.94,1275.08 1485.16,1274.3 1487.37,1273.53 1489.59,1272.77 1491.81,1272.03 1494.03,1271.3 1496.25,1270.58 1498.47,1269.88 1500.68,1269.19 1502.9,1268.51 1505.12,1267.85 1507.34,1267.2 1509.56,1266.56 1511.78,1265.93 1514,1265.31 1516.21,1264.7 1518.43,1264.11 1520.65,1263.52 1522.87,1262.95 1525.09,1262.39 1527.31,1261.84 1529.53,1261.29 1531.74,1260.76 1533.96,1260.24 1536.18,1259.72 1538.4,1259.22 1540.62,1258.73 1542.84,1258.24 1545.06,1257.76 1547.27,1257.3 1549.49,1256.84 1551.71,1256.39 1553.93,1255.94 1556.15,1255.51 1558.37,1255.08 1560.58,1254.66 1562.8,1254.25 1565.02,1253.85 1567.24,1253.45 1569.46,1253.06 1571.68,1252.68 1573.9,1252.31 1576.11,1251.94 1578.33,1251.58 1580.55,1251.22 1582.77,1250.88 1584.99,1250.53 1587.21,1250.2 1589.43,1249.87 1591.64,1249.55 1593.86,1249.23 1596.08,1248.92 1598.3,1248.61 1600.52,1248.31 1602.74,1248.02 1604.96,1247.73 1607.17,1247.44 1609.39,1247.16 1611.61,1246.89 1613.83,1246.62 1616.05,1246.36 1618.27,1246.1 1620.49,1245.85 1622.7,1245.6 1624.92,1245.35 1627.14,1245.11 1629.36,1244.87 1631.58,1244.64 1633.8,1244.42 1636.01,1244.19 1638.23,1243.97 1640.45,1243.76 1642.67,1243.55 1644.89,1243.34 1647.11,1243.14 1649.33,1242.94 1651.54,1242.74 1653.76,1242.55 1655.98,1242.36 1658.2,1242.17 1660.42,1241.99 1662.64,1241.81 1664.86,1241.64 1667.07,1241.46 1669.29,1241.29 1671.51,1241.13 1673.73,1240.96 1675.95,1240.8 1678.17,1240.65 1680.39,1240.49 1682.6,1240.34 1684.82,1240.19 1687.04,1240.05 1689.26,1239.9 1691.48,1239.76 1693.7,1239.63 1695.91,1239.49 1698.13,1239.36 1700.35,1239.23 1702.57,1239.1 1704.79,1238.97 1707.01,1238.85 1709.23,1238.73 1711.44,1238.61 1713.66,1238.49 1715.88,1238.38 1718.1,1238.26 1720.32,1238.15 1722.54,1238.04 1724.76,1237.94 1726.97,1237.83 1729.19,1237.73 1731.41,1237.63 1733.63,1237.53 1735.85,1237.43 1738.07,1237.34 1740.29,1237.24 1742.5,1237.15" fill="none" stroke="#404040" stroke-width="4.1"/>
</g>
<path d="M1340.79,257.9v7M1340.79,453.43v-7M1388.79,257.9v14M1388.79,453.43v-14M1436.78,257.9v7M1436.78,453.43v-7M1484.78,257.9v14M1484.78,453.43v-14M1532.77,257.9v7M1532.77,453.43v-7M1580.76,257.9v14M1580.76,453.43v-14M1628.76,257.9v7M1628.76,453.43v-7M1676.75,257.9v14M1676.75,453.43v-14M1724.75,257.9v7M1724.75,453.43v-7M1772.74,257.9v14M1772.74,453.43v-14M1820.73,257.9v7M1820.73,453.43v-7M1868.73,257.9v14M1868.73,453.43v-14M1916.72,257.9v7M1916.72,453.43v-7M1964.72,257.9v14M1964.72,453.43v-14M2012.71,257.9v7M2012.71,453.43v-7M1292.8,428.99h7M2060.7,428.99h-7M1292.8,404.55h14M2060.7,404.55h-14M1292.8,380.11h7M2060.7,380.11h-7M1292.8,355.66h14M2060.7,355.66h-14M1292.8,331.22h7M2060.7,331.22h-7M1292.8,306.78h14M2060.7,306.78h-14M1292.8,282.34h7M2060.7,282.34h-7M1340.79,648.96v-7M1388.79,648.96v-14M1436.78,648.96v-7M1484.78,648.96v-14M1532.77,648.96v-7M1580.76,648.96v-14M1628.76,648.96v-7M1676.75,648.96v-14M1724.75,648.96v-7M1772.74,648.96v-14M1820.73,648.96v-7M1868.73,648.96v-14M1916.72,648.96v-7M1964.72,648.96v-14M2012.71,648.96v-7M1292.8,624.52h7M2060.7,624.52h-7M1292.8,600.08h14M2060.7,600.08h-14M1292.8,575.64h7M2060.7,575.64h-7M1292.8,551.19h14M2060.7,551.19h-14M1292.8,526.75h7M2060.7,526.75h-7M1292.8,502.31h14M2060.7,502.31h-14M1292.8,477.87h7M2060.7,477.87h-7M1340.79,844.49v-7M1388.79,844.49v-14M1436.78,844.49v-7M1484.78,844.49v-14M1532.77,844.49v-7M1580.76,844.49v-14M1628.76,844.49v-7M1676.75,844.49v-14M1724.75,844.49v-7M1772.74,844.49v-14M1820.73,844.49v-7M1868.73,844.49v-14M1916.72,844.49v-7M1964.72,844.49v-14M2012.71,844.49v-7M1292.8,824.94h7M2060.7,824.94h-7M1292.8,805.38h14M2060.7,805.38h-14M1292.8,785.83h7M2060.7,785.83h-7M1292.8,766.28h14M2060.7,766.28h-14M1292.8,746.73h7M2060.7,746.73h-7M1292.8,727.17h14M2060.7,727.17h-14M1292.8,707.62h7M2060.7,707.62h-7M1292.8,688.07h14M2060.7,688.07h-14M1292.8,668.51h7M2060.7,668.51h-7M1340.79,1040.02v-7M1388.79,1040.02v-14M1436.78,1040.02v-7M1484.78,1040.02v-14M1532.77,1040.02v-7M1580.76,1040.02v-14M1628.76,1040.02v-7M1676.75,1040.02v-14M1724.75,1040.02v-7M1772.74,1040.02v-14M1820.73,1040.02v-7M1868.73,1040.02v-14M1916.72,1040.02v-7M1964.72,1040.02v-14M2012.71,1040.02v-7M1292.8,1020.47h7M2060.7,1020.47h-7M1292.8,1000.91h14M2060.7,1000.91h-14M1292.8,981.36h7M2060.7,981.36h-7M1292.8,961.81h14M2060.7,961.81h-14M1292.8,942.25h7M2060.7,942.25h-7M1292.8,922.7h14M2060.7,922.7h-14M1292.8,903.15h7M2060.7,903.15h-7M1292.8,883.6h14M2060.7,883.6h-14M1292.8,864.04h7M2060.7,864.04h-7M1340.79,1235.55v-7M1388.79,1235.55v-14M1436.78,1235.55v-7M1484.78,1235.55v-14M1532.77,1235.55v-7M1580.76,1235.55v-14M1628.76,1235.55v-7M1676.75,1235.55v-14M1724.75,1235.55v-7M1772.74,1235.55v-14M1820.73,1235.55v-7M1868.73,1235.55v-14M1916.72,1235.55v-7M1964.72,1235.55v-14M2012.71,1235.55v-7M1292.8,1220.89h7M2060.7,1220.89h-7M1292.8,1206.22h14M2060.7,1206.22h-14M1292.8,1191.56h7M2060.7,1191.56h-7M1292.8,1176.89h14M2060.7,1176.89h-14M1292.8,1162.23h7M2060.7,1162.23h-7M1292.8,1147.56h14M2060.7,1147.56h-14M1292.8,1132.9h7M2060.7,1132.9h-7M1292.8,1118.23h14M2060.7,1118.23h-14M1292.8,1103.57h7M2060.7,1103.57h-7M1292.8,1088.9h14M2060.7,1088.9h-14M1340.79,1431.08v-7M1388.79,1431.08v-14M1436.78,1431.08v-7M1484.78,1431.08v-14M1532.77,1431.08v-7M1580.76,1431.08v-14M1628.76,1431.08v-7M1676.75,1431.08v-14M1724.75,1431.08v-7M1772.74,1431.08v-14M1820.73,1431.08v-7M1868.73,1431.08v-14M1916.72,1431.08v-7M1964.72,1431.08v-14M2012.71,1431.08v-7M1292.8,1416.42h7M2060.7,1416.42h-7M1292.8,1401.75h14M2060.7,1401.75h-14M1292.8,1387.09h7M2060.7,1387.09h-7M1292.8,1372.42h14M2060.7,1372.42h-14M1292.8,1357.76h7M2060.7,1357.76h-7M1292.8,1343.09h14M2060.7,1343.09h-14M1292.8,1328.43h7M2060.7,1328.43h-7M1292.8,1313.76h14M2060.7,1313.76h-14M1292.8,1299.1h7M2060.7,1299.1h-7M1292.8,1284.43h14M2060.7,1284.43h-14" stroke="#000" stroke-width="2.5" fill="none"/>
<rect x="1292.8" y="257.9" width="248.2" height="65.2" fill="#fff" stroke="#333" stroke-width="1.3"/>
<line x1="1297" y1="273.4" x2="1343" y2="273.4" stroke="#0000ff" stroke-width="3.8" stroke-linecap="round"/>
<text transform="translate(1350,281) scale(1,1.05)" font-family="Liberation Sans, Arial, sans-serif" font-size="21.3" fill="#000">T<tspan font-size="14.5" dy="5">Sub</tspan><tspan dy="-5"> = 440 °C (Fit)</tspan></text>
<circle cx="1319.6" cy="304.6" r="4.9" fill="none" stroke="#8080ff" stroke-width="1"/><circle cx="1319.6" cy="304.6" r="0.8" fill="#8080ff"/>
<text transform="translate(1344.5,311.8) scale(1,1.05)" font-family="Liberation Sans, Arial, sans-serif" font-size="21.3" fill="#000">T<tspan font-size="14.5" dy="5">Sub</tspan><tspan dy="-5"> = 440 °C (Data)</tspan></text>
<rect x="1292.8" y="453.43" width="253.9" height="65.2" fill="#fff" stroke="#333" stroke-width="1.3"/>
<line x1="1297" y1="468.93" x2="1343" y2="468.93" stroke="#ff0000" stroke-width="3.8" stroke-linecap="round"/>
<text transform="translate(1350,476.53) scale(1,1.05)" font-family="Liberation Sans, Arial, sans-serif" font-size="21.3" fill="#000">T<tspan font-size="14.5" dy="5">Sub</tspan><tspan dy="-5"> = 470 °C (Fit)</tspan></text>
<circle cx="1319.6" cy="500.13" r="4.9" fill="none" stroke="#ff8080" stroke-width="1"/><circle cx="1319.6" cy="500.13" r="0.8" fill="#ff8080"/>
<text transform="translate(1350,507.33) scale(1,1.05)" font-family="Liberation Sans, Arial, sans-serif" font-size="21.3" fill="#000">T<tspan font-size="14.5" dy="5">Sub</tspan><tspan dy="-5"> = 470 °C (Data)</tspan></text>
<rect x="1292.8" y="648.96" width="253.9" height="65.2" fill="#fff" stroke="#333" stroke-width="1.3"/>
<line x1="1297" y1="664.46" x2="1343" y2="664.46" stroke="#000000" stroke-width="3.8" stroke-linecap="round"/>
<text transform="translate(1350,672.06) scale(1,1.05)" font-family="Liberation Sans, Arial, sans-serif" font-size="21.3" fill="#000">T<tspan font-size="14.5" dy="5">Sub</tspan><tspan dy="-5"> = 485 °C (Fit)</tspan></text>
<circle cx="1319.6" cy="695.66" r="4.9" fill="none" stroke="#808080" stroke-width="1"/><circle cx="1319.6" cy="695.66" r="0.8" fill="#808080"/>
<text transform="translate(1350,702.86) scale(1,1.05)" font-family="Liberation Sans, Arial, sans-serif" font-size="21.3" fill="#000">T<tspan font-size="14.5" dy="5">Sub</tspan><tspan dy="-5"> = 485 °C (Data)</tspan></text>
<rect x="1292.8" y="844.49" width="253.9" height="65.2" fill="#fff" stroke="#333" stroke-width="1.3"/>
<line x1="1297" y1="859.99" x2="1343" y2="859.99" stroke="#800080" stroke-width="3.8" stroke-linecap="round"/>
<text transform="translate(1350,867.59) scale(1,1.05)" font-family="Liberation Sans, Arial, sans-serif" font-size="21.3" fill="#000">T<tspan font-size="14.5" dy="5">Sub</tspan><tspan dy="-5"> = 500 °C (Fit)</tspan></text>
<circle cx="1319.6" cy="891.19" r="4.9" fill="none" stroke="#c080c0" stroke-width="1"/><circle cx="1319.6" cy="891.19" r="0.8" fill="#c080c0"/>
<text transform="translate(1350,898.39) scale(1,1.05)" font-family="Liberation Sans, Arial, sans-serif" font-size="21.3" fill="#000">T<tspan font-size="14.5" dy="5">Sub</tspan><tspan dy="-5"> = 500 °C (Data)</tspan></text>
<rect x="1292.8" y="1040.02" width="253.9" height="65.2" fill="#fff" stroke="#333" stroke-width="1.3"/>
<line x1="1297" y1="1055.52" x2="1343" y2="1055.52" stroke="#008000" stroke-width="3.8" stroke-linecap="round"/>
<text transform="translate(1350,1063.12) scale(1,1.05)" font-family="Liberation Sans, Arial, sans-serif" font-size="21.3" fill="#000">T<tspan font-size="14.5" dy="5">Sub</tspan><tspan dy="-5"> = 515 °C (Fit)</tspan></text>
<circle cx="1319.6" cy="1086.72" r="4.9" fill="none" stroke="#80c080" stroke-width="1"/><circle cx="1319.6" cy="1086.72" r="0.8" fill="#80c080"/>
<text transform="translate(1350,1093.92) scale(1,1.05)" font-family="Liberation Sans, Arial, sans-serif" font-size="21.3" fill="#000">T<tspan font-size="14.5" dy="5">Sub</tspan><tspan dy="-5"> = 515 °C (Data)</tspan></text>
<rect x="1292.8" y="1235.55" width="253.9" height="65.2" fill="#fff" stroke="#333" stroke-width="1.3"/>
<line x1="1297" y1="1251.05" x2="1343" y2="1251.05" stroke="#404040" stroke-width="3.8" stroke-linecap="round"/>
<text transform="translate(1350,1258.65) scale(1,1.05)" font-family="Liberation Sans, Arial, sans-serif" font-size="21.3" fill="#000">T<tspan font-size="14.5" dy="5">Sub</tspan><tspan dy="-5"> = 530 °C (Fit)</tspan></text>
<circle cx="1319.6" cy="1282.25" r="4.9" fill="none" stroke="#909090" stroke-width="1"/><circle cx="1319.6" cy="1282.25" r="0.8" fill="#909090"/>
<text transform="translate(1350,1289.45) scale(1,1.05)" font-family="Liberation Sans, Arial, sans-serif" font-size="21.3" fill="#000">T<tspan font-size="14.5" dy="5">Sub</tspan><tspan dy="-5"> = 530 °C (Data)</tspan></text>
<rect x="1848.4" y="390.2" width="191.6" height="42.6" fill="#fff" stroke="#444" stroke-width="1.3"/>
<text x="2035" y="418.8" font-family="Liberation Sans, Arial, sans-serif" font-size="24.5" fill="#000" text-anchor="end"><tspan font-family="Liberation Serif, serif" font-size="26">τ</tspan><tspan font-size="16.5" dy="7">Des</tspan><tspan dy="-7"> = 5.8 ± 0.2 s</tspan></text>
<rect x="1870.5" y="585.2" width="170.3" height="42.7" fill="#fff" stroke="#444" stroke-width="1.3"/>
<text x="2035.8" y="613.8" font-family="Liberation Sans, Arial, sans-serif" font-size="24.5" fill="#000" text-anchor="end"><tspan font-family="Liberation Serif, serif" font-size="26">τ</tspan><tspan font-size="16.5" dy="7">Des</tspan><tspan dy="-7"> = 3 ± 0.4 s</tspan></text>
<rect x="1821" y="783.6" width="219" height="42.7" fill="#fff" stroke="#444" stroke-width="1.3"/>
<text x="2035" y="812.2" font-family="Liberation Sans, Arial, sans-serif" font-size="24.5" fill="#000" text-anchor="end"><tspan font-family="Liberation Serif, serif" font-size="26">τ</tspan><tspan font-size="16.5" dy="7">Des</tspan><tspan dy="-7"> = 1.58 ± 0.14 s</tspan></text>
<rect x="1870.5" y="977.9" width="170.3" height="43.4" fill="#fff" stroke="#444" stroke-width="1.3"/>
<text x="2035.8" y="1006.5" font-family="Liberation Sans, Arial, sans-serif" font-size="24.5" fill="#000" text-anchor="end"><tspan font-family="Liberation Serif, serif" font-size="26">τ</tspan><tspan font-size="16.5" dy="7">Des</tspan><tspan dy="-7"> = 1 ± 0.1 s</tspan></text>
<rect x="1822.9" y="1175.9" width="217.9" height="42.7" fill="#fff" stroke="#444" stroke-width="1.3"/>
<text x="2035.8" y="1204.5" font-family="Liberation Sans, Arial, sans-serif" font-size="24.5" fill="#000" text-anchor="end"><tspan font-family="Liberation Serif, serif" font-size="26">τ</tspan><tspan font-size="16.5" dy="7">Des</tspan><tspan dy="-7"> = 0.48 ± 0.04 s</tspan></text>
<rect x="1821.7" y="1366.7" width="219.1" height="42.7" fill="#fff" stroke="#444" stroke-width="1.3"/>
<text x="2035.8" y="1395.3" font-family="Liberation Sans, Arial, sans-serif" font-size="24.5" fill="#000" text-anchor="end"><tspan font-family="Liberation Serif, serif" font-size="26">τ</tspan><tspan font-size="16.5" dy="7">Des</tspan><tspan dy="-7"> = 0.25 ± 0.02 s</tspan></text>
<rect x="1292.8" y="257.9" width="767.9039999999998" height="195.53" fill="none" stroke="#000" stroke-width="2.6"/>
<rect x="1292.8" y="453.43" width="767.9039999999998" height="195.53" fill="none" stroke="#000" stroke-width="2.6"/>
<rect x="1292.8" y="648.96" width="767.9039999999998" height="195.53" fill="none" stroke="#000" stroke-width="2.6"/>
<rect x="1292.8" y="844.49" width="767.9039999999998" height="195.53" fill="none" stroke="#000" stroke-width="2.6"/>
<rect x="1292.8" y="1040.02" width="767.9039999999998" height="195.53" fill="none" stroke="#000" stroke-width="2.6"/>
<rect x="1292.8" y="1235.55" width="767.9039999999998" height="195.53" fill="none" stroke="#000" stroke-width="2.6"/>
<g font-family="Liberation Sans, Arial, sans-serif" font-size="32" fill="#000"><text transform="translate(1277,463.33) scale(1,1.09)" text-anchor="end">0.00</text><text transform="translate(1277,414.45) scale(1,1.09)" text-anchor="end">0.15</text><text transform="translate(1277,365.56) scale(1,1.09)" text-anchor="end">0.30</text><text transform="translate(1277,316.68) scale(1,1.09)" text-anchor="end">0.45</text><text transform="translate(1277,267.8) scale(1,1.09)" text-anchor="end">0.60</text><text transform="translate(1277,658.86) scale(1,1.09)" text-anchor="end">0</text><text transform="translate(1277,609.98) scale(1,1.09)" text-anchor="end">0.15</text><text transform="translate(1277,561.09) scale(1,1.09)" text-anchor="end">0.3</text><text transform="translate(1277,512.21) scale(1,1.09)" text-anchor="end">0.45</text><text transform="translate(1277,854.39) scale(1,1.09)" text-anchor="end">0</text><text transform="translate(1277,815.28) scale(1,1.09)" text-anchor="end">0.15</text><text transform="translate(1277,776.18) scale(1,1.09)" text-anchor="end">0.3</text><text transform="translate(1277,737.07) scale(1,1.09)" text-anchor="end">0.45</text><text transform="translate(1277,697.97) scale(1,1.09)" text-anchor="end">0.6</text><text transform="translate(1277,1049.92) scale(1,1.09)" text-anchor="end">0</text><text transform="translate(1277,1010.81) scale(1,1.09)" text-anchor="end">0.15</text><text transform="translate(1277,971.71) scale(1,1.09)" text-anchor="end">0.3</text><text transform="translate(1277,932.6) scale(1,1.09)" text-anchor="end">0.45</text><text transform="translate(1277,893.5) scale(1,1.09)" text-anchor="end">0.6</text><text transform="translate(1277,1245.45) scale(1,1.09)" text-anchor="end">0</text><text transform="translate(1277,1216.12) scale(1,1.09)" text-anchor="end">0.15</text><text transform="translate(1277,1186.79) scale(1,1.09)" text-anchor="end">0.3</text><text transform="translate(1277,1157.46) scale(1,1.09)" text-anchor="end">0.45</text><text transform="translate(1277,1128.13) scale(1,1.09)" text-anchor="end">0.6</text><text transform="translate(1277,1098.8) scale(1,1.09)" text-anchor="end">0.75</text><text transform="translate(1277,1440.98) scale(1,1.09)" text-anchor="end">0</text><text transform="translate(1277,1411.65) scale(1,1.09)" text-anchor="end">0.15</text><text transform="translate(1277,1382.32) scale(1,1.09)" text-anchor="end">0.3</text><text transform="translate(1277,1352.99) scale(1,1.09)" text-anchor="end">0.45</text><text transform="translate(1277,1323.66) scale(1,1.09)" text-anchor="end">0.6</text><text transform="translate(1277,1294.33) scale(1,1.09)" text-anchor="end">0.75</text>
<text transform="translate(1292.8,234.9) scale(1,1.09)" text-anchor="middle">0.0</text>
<text transform="translate(1292.8,1472.9) scale(1,1.09)" text-anchor="middle">0.0</text>
<text transform="translate(1388.79,234.9) scale(1,1.09)" text-anchor="middle">0.2</text>
<text transform="translate(1388.79,1472.9) scale(1,1.09)" text-anchor="middle">0.2</text>
<text transform="translate(1484.78,234.9) scale(1,1.09)" text-anchor="middle">0.4</text>
<text transform="translate(1484.78,1472.9) scale(1,1.09)" text-anchor="middle">0.4</text>
<text transform="translate(1580.76,234.9) scale(1,1.09)" text-anchor="middle">0.6</text>
<text transform="translate(1580.76,1472.9) scale(1,1.09)" text-anchor="middle">0.6</text>
<text transform="translate(1676.75,234.9) scale(1,1.09)" text-anchor="middle">0.8</text>
<text transform="translate(1676.75,1472.9) scale(1,1.09)" text-anchor="middle">0.8</text>
<text transform="translate(1772.74,234.9) scale(1,1.09)" text-anchor="middle">1.0</text>
<text transform="translate(1772.74,1472.9) scale(1,1.09)" text-anchor="middle">1.0</text>
<text transform="translate(1868.73,234.9) scale(1,1.09)" text-anchor="middle">1.2</text>
<text transform="translate(1868.73,1472.9) scale(1,1.09)" text-anchor="middle">1.2</text>
<text transform="translate(1964.72,234.9) scale(1,1.09)" text-anchor="middle">1.4</text>
<text transform="translate(1964.72,1472.9) scale(1,1.09)" text-anchor="middle">1.4</text>
<text transform="translate(2060.7,234.9) scale(1,1.09)" text-anchor="middle">1.6</text>
<text transform="translate(2060.7,1472.9) scale(1,1.09)" text-anchor="middle">1.6</text>
</g>
<text transform="translate(1677.4,183.6) scale(0.95,1)" font-family="Liberation Sans, Arial, sans-serif" font-size="41.5" fill="#000" text-anchor="middle">RHEED Reconstruction Intensity vs. Time</text>
<text x="1677" y="1533.1" font-family="Liberation Sans, Arial, sans-serif" font-size="39.7" letter-spacing="0.2" fill="#000" text-anchor="middle">Time (s)</text>
<text transform="translate(1198.8,745.2) rotate(-90) scale(0.97,1)" font-family="Liberation Sans, Arial, sans-serif" font-size="40.7" fill="#000" text-anchor="middle">Normalized Intensity (a.u.)</text>
<path d="M260.93,1429.9v-5.8M260.93,840.4v5.8M323.87,1429.9v-11.4M323.87,840.4v11.4M386.8,1429.9v-5.8M386.8,840.4v5.8M449.73,1429.9v-11.4M449.73,840.4v11.4M512.67,1429.9v-5.8M512.67,840.4v5.8M575.6,1429.9v-11.4M575.6,840.4v11.4M638.53,1429.9v-5.8M638.53,840.4v5.8M701.47,1429.9v-11.4M701.47,840.4v11.4M764.4,1429.9v-5.8M764.4,840.4v5.8M827.33,1429.9v-11.4M827.33,840.4v11.4M890.27,1429.9v-5.8M890.27,840.4v5.8M234.2,840.4v11.4M291.05,840.4v5.8M347.9,840.4v11.4M404.75,840.4v5.8M461.6,840.4v11.4M518.45,840.4v5.8M575.3,840.4v11.4M632.15,840.4v5.8M689,840.4v11.4M745.85,840.4v5.8M802.7,840.4v11.4M859.55,840.4v5.8M916.4,840.4v11.4M198,1370.75h5.7M953.2,1370.75h-5.7M198,1336.15h5.7M953.2,1336.15h-5.7M198,1311.6h5.7M953.2,1311.6h-5.7M198,1292.55h5.7M953.2,1292.55h-5.7M198,1276.99h5.7M953.2,1276.99h-5.7M198,1263.84h5.7M953.2,1263.84h-5.7M198,1252.44h5.7M953.2,1252.44h-5.7M198,1242.39h5.7M953.2,1242.39h-5.7M198,1233.4h12.6M953.2,1233.4h-12.6M198,1174.25h5.7M953.2,1174.25h-5.7M198,1139.65h5.7M953.2,1139.65h-5.7M198,1115.1h5.7M953.2,1115.1h-5.7M198,1096.05h5.7M953.2,1096.05h-5.7M198,1080.49h5.7M953.2,1080.49h-5.7M198,1067.34h5.7M953.2,1067.34h-5.7M198,1055.94h5.7M953.2,1055.94h-5.7M198,1045.89h5.7M953.2,1045.89h-5.7M198,1036.9h12.6M953.2,1036.9h-12.6M198,977.75h5.7M953.2,977.75h-5.7M198,943.15h5.7M953.2,943.15h-5.7M198,918.6h5.7M953.2,918.6h-5.7M198,899.55h5.7M953.2,899.55h-5.7M198,883.99h5.7M953.2,883.99h-5.7M198,870.84h5.7M953.2,870.84h-5.7M198,859.44h5.7M953.2,859.44h-5.7M198,849.39h5.7M953.2,849.39h-5.7" stroke="#000" stroke-width="1.8" fill="none"/>
<defs><clipPath id="cclip"><rect x="198.0" y="840.4" width="755.2" height="589.5000000000001"/></clipPath></defs>
<line x1="198.0" y1="860" x2="953.2" y2="1375.6" stroke="#000" stroke-width="3.8" clip-path="url(#cclip)"/>
<circle cx="312" cy="918" r="6" fill="none" stroke="#ff0000" stroke-width="2"/><circle cx="312" cy="918" r="1" fill="#ff0000"/>
<circle cx="371.4" cy="974.7" r="6" fill="none" stroke="#ff0000" stroke-width="2"/><circle cx="371.4" cy="974.7" r="1" fill="#ff0000"/>
<circle cx="433.6" cy="1036.9" r="6" fill="none" stroke="#ff0000" stroke-width="2"/><circle cx="433.6" cy="1036.9" r="1" fill="#ff0000"/>
<circle cx="498.3" cy="1023.1" r="6" fill="none" stroke="#ff0000" stroke-width="2"/><circle cx="498.3" cy="1023.1" r="1" fill="#ff0000"/>
<circle cx="498.3" cy="1074.1" r="6" fill="none" stroke="#ff0000" stroke-width="2"/><circle cx="498.3" cy="1074.1" r="1" fill="#ff0000"/>
<circle cx="565.1" cy="1131.2" r="6" fill="none" stroke="#ff0000" stroke-width="2"/><circle cx="565.1" cy="1131.2" r="1" fill="#ff0000"/>
<circle cx="707.6" cy="1187.7" r="6" fill="none" stroke="#ff0000" stroke-width="2"/><circle cx="707.6" cy="1187.7" r="1" fill="#ff0000"/>
<rect x="198.0" y="840.4" width="755.2" height="589.5" fill="none" stroke="#000" stroke-width="2"/>
<rect x="728.5" y="859.3" width="217.3" height="72.3" fill="#000"/>
<rect x="719.3" y="850.2" width="218.3" height="73.4" fill="#fff" stroke="#888" stroke-width="1"/>
<circle cx="752.1" cy="870.1" r="6.8" fill="none" stroke="#ff0000" stroke-width="1.8"/><circle cx="752.1" cy="870.1" r="0.9" fill="#ff0000"/>
<text x="781.3" y="878.6" font-family="Liberation Sans, Arial, sans-serif" font-size="25.5" fill="#000">τ</text><text x="792.6" y="885.3" font-family="Liberation Sans, Arial, sans-serif" font-size="17" fill="#000">Des</text><text x="831" y="878.6" font-family="Liberation Sans, Arial, sans-serif" font-size="25.5" fill="#000">Data</text>
<line x1="723" y1="906.5" x2="781.5" y2="906.5" stroke="#000" stroke-width="4" stroke-linecap="round"/>
<text x="788" y="914.9" font-family="Liberation Sans, Arial, sans-serif" font-size="25.6" fill="#000">Arrhenius Fit</text>
<rect x="275.9" y="1216.6" width="255.5" height="106.7" fill="#fff" stroke="#888" stroke-width="1"/>
<text x="280" y="1242.9" font-family="Liberation Sans, Arial, sans-serif" font-size="24.5" letter-spacing="0.8" font-weight="bold" fill="#000">Final Result:</text>
<text x="280" y="1274.9" font-family="Liberation Sans, Arial, sans-serif" font-size="24.5" letter-spacing="0.6" font-weight="bold" fill="#000">U<tspan font-size="17" dy="6">Des</tspan><tspan dy="-6"> = 1.74 </tspan><tspan font-weight="normal">±</tspan> 0.38 eV</text>
<g font-size="24.5" fill="#000"><text x="280" y="1314.9" font-family="Liberation Serif, serif">υ</text><text x="300" y="1314.9" font-family="Liberation Serif, serif" font-size="26">=</text><text x="327.5" y="1314.9" font-family="Liberation Sans, Arial, sans-serif" font-size="25" letter-spacing="0.8">2.75</text><text x="386" y="1314.9" font-family="Liberation Sans, Arial, sans-serif">×</text><text x="407.5" y="1314.9" font-family="Liberation Sans, Arial, sans-serif" font-size="25" letter-spacing="0.5">10</text><text x="434.5" y="1303.4" font-family="Liberation Sans, Arial, sans-serif" font-size="16.5" letter-spacing="0.5">11</text><text x="463.5" y="1314.9" font-family="Liberation Sans, Arial, sans-serif" font-size="25.5" letter-spacing="0.8">Hz</text></g>
<g font-family="Liberation Sans, Arial, sans-serif" font-size="24.3" fill="#000"><text x="198" y="1462.9" font-size="25.6" text-anchor="middle">1.20</text><text x="323.87" y="1462.9" font-size="25.6" text-anchor="middle">1.25</text><text x="449.73" y="1462.9" font-size="25.6" text-anchor="middle">1.30</text><text x="575.6" y="1462.9" font-size="25.6" text-anchor="middle">1.35</text><text x="701.47" y="1462.9" font-size="25.6" text-anchor="middle">1.40</text><text x="827.33" y="1462.9" font-size="25.6" text-anchor="middle">1.45</text><text x="953.2" y="1462.9" font-size="25.6" text-anchor="middle">1.50</text><text x="234.2" y="822.3" font-size="25.6" text-anchor="middle">825</text><text x="347.9" y="822.3" font-size="25.6" text-anchor="middle">800</text><text x="461.6" y="822.3" font-size="25.6" text-anchor="middle">775</text><text x="575.3" y="822.3" font-size="25.6" text-anchor="middle">750</text><text x="689" y="822.3" font-size="25.6" text-anchor="middle">725</text><text x="802.7" y="822.3" font-size="25.6" text-anchor="middle">700</text><text x="916.4" y="822.3" font-size="25.6" text-anchor="middle">675</text><text x="183" y="848.7" text-anchor="end">10</text><text x="183" y="1045.2" text-anchor="end">1</text><text x="183" y="1241.7" text-anchor="end">0.1</text><text x="183" y="1438.2" text-anchor="end">0.01</text></g>
<text x="576" y="1513" font-family="Liberation Sans, Arial, sans-serif" font-size="30" letter-spacing="0.6" fill="#000" text-anchor="middle">1000/T<tspan font-size="21" dy="7.5">Sub</tspan><tspan dy="-7.5"> (K</tspan><tspan font-size="21" dy="-11">-1</tspan><tspan dy="11">)</tspan></text>
<text x="521.5" y="775.7" font-family="Liberation Sans, Arial, sans-serif" font-size="30.5" letter-spacing="0.5" fill="#000">T<tspan font-size="21" dy="8.6">Sub</tspan><tspan dy="-8.6"> (K)</tspan></text>
<text transform="translate(116.3,1197) rotate(-90)" font-family="Liberation Sans, Arial, sans-serif" font-size="30" fill="#000">τ<tspan font-size="21" dy="8.3">Des</tspan><tspan font-size="21" dy="-22">-1</tspan><tspan dy="13.7"> (s</tspan><tspan font-size="21" dy="-11">-1</tspan><tspan dy="11">)</tspan></text>
<rect x="0" y="840.5" width="1.3" height="11" fill="#222"/>
</svg></body></html>
